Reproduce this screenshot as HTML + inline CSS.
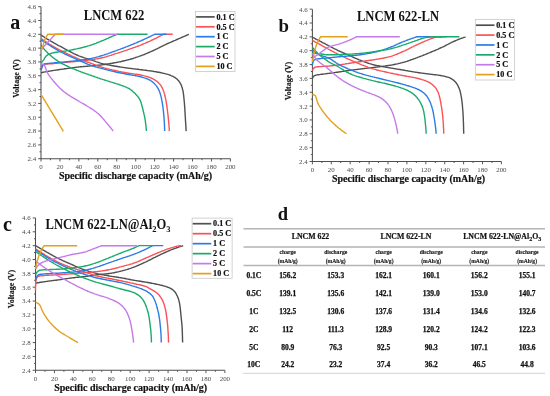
<!DOCTYPE html>
<html><head><meta charset="utf-8"><style>
html,body{margin:0;padding:0;background:#fff;width:550px;height:396px;overflow:hidden}
svg{display:block;will-change:transform}
text{font-family:"Liberation Serif",serif}
.tl{font-size:6.9px;fill:#4a4a4a}
.lg{font-size:8.1px;font-weight:bold;fill:#111;stroke:#111;stroke-width:0.2px}
.pl{font-size:20px;font-weight:bold;fill:#111}
.tt{font-size:12.6px;font-weight:bold;fill:#111}
.sub{font-size:8.5px}
.sub2{font-size:6px}
.at{font-size:10px;font-weight:bold;fill:#111;stroke:#111;stroke-width:0.2px}
.yt{font-size:8px;font-weight:bold;fill:#111;stroke:#111;stroke-width:0.15px}
.th{font-size:7.8px;font-weight:bold;fill:#111;stroke:#111;stroke-width:0.2px}
.sh{font-size:5.6px;font-weight:bold;fill:#222;stroke:#222;stroke-width:0.15px}
.td{font-size:7.5px;font-weight:bold;fill:#111;stroke:#111;stroke-width:0.25px}
</style></head><body>
<svg width="550" height="396" viewBox="0 0 550 396">
<path d="M41.00 6.68 V158.70 H230.40" fill="none" stroke="#4f4f4f" stroke-width="1.05"/>
<path d="M38.20 158.70H41.00M39.50 151.79H41.00M38.20 144.88H41.00M39.50 137.97H41.00M38.20 131.06H41.00M39.50 124.15H41.00M38.20 117.24H41.00M39.50 110.33H41.00M38.20 103.42H41.00M39.50 96.51H41.00M38.20 89.60H41.00M39.50 82.69H41.00M38.20 75.78H41.00M39.50 68.87H41.00M38.20 61.96H41.00M39.50 55.05H41.00M38.20 48.14H41.00M39.50 41.23H41.00M38.20 34.32H41.00M39.50 27.41H41.00M38.20 20.50H41.00M39.50 13.59H41.00M38.20 6.68H41.00M41.00 158.70V161.50M50.47 158.70V160.20M59.94 158.70V161.50M69.41 158.70V160.20M78.88 158.70V161.50M88.35 158.70V160.20M97.82 158.70V161.50M107.29 158.70V160.20M116.76 158.70V161.50M126.23 158.70V160.20M135.70 158.70V161.50M145.17 158.70V160.20M154.64 158.70V161.50M164.11 158.70V160.20M173.58 158.70V161.50M183.05 158.70V160.20M192.52 158.70V161.50M201.99 158.70V160.20M211.46 158.70V161.50M220.93 158.70V160.20M230.40 158.70V161.50" stroke="#4f4f4f" stroke-width="0.95"/>
<text x="36.20" y="161.10" class="tl" text-anchor="end">2.4</text>
<text x="36.20" y="147.28" class="tl" text-anchor="end">2.6</text>
<text x="36.20" y="133.46" class="tl" text-anchor="end">2.8</text>
<text x="36.20" y="119.64" class="tl" text-anchor="end">3.0</text>
<text x="36.20" y="105.82" class="tl" text-anchor="end">3.2</text>
<text x="36.20" y="92.00" class="tl" text-anchor="end">3.4</text>
<text x="36.20" y="78.18" class="tl" text-anchor="end">3.6</text>
<text x="36.20" y="64.36" class="tl" text-anchor="end">3.8</text>
<text x="36.20" y="50.54" class="tl" text-anchor="end">4.0</text>
<text x="36.20" y="36.72" class="tl" text-anchor="end">4.2</text>
<text x="36.20" y="22.90" class="tl" text-anchor="end">4.4</text>
<text x="36.20" y="9.08" class="tl" text-anchor="end">4.6</text>
<text x="41.00" y="169.20" class="tl" text-anchor="middle">0</text>
<text x="59.94" y="169.20" class="tl" text-anchor="middle">20</text>
<text x="78.88" y="169.20" class="tl" text-anchor="middle">40</text>
<text x="97.82" y="169.20" class="tl" text-anchor="middle">60</text>
<text x="116.76" y="169.20" class="tl" text-anchor="middle">80</text>
<text x="135.70" y="169.20" class="tl" text-anchor="middle">100</text>
<text x="154.64" y="169.20" class="tl" text-anchor="middle">120</text>
<text x="173.58" y="169.20" class="tl" text-anchor="middle">140</text>
<text x="192.52" y="169.20" class="tl" text-anchor="middle">160</text>
<text x="211.46" y="169.20" class="tl" text-anchor="middle">180</text>
<text x="230.40" y="169.20" class="tl" text-anchor="middle">200</text>
<path d="M41.0 72.7L42.0 72.5 43.0 72.3 44.0 72.1 44.9 71.9 45.9 71.8 46.9 71.6 47.9 71.4 48.9 71.2 49.9 71.1 50.9 70.9 51.8 70.7 52.8 70.6 53.8 70.4 54.8 70.3 55.8 70.1 56.8 70.0 57.8 69.8 58.8 69.7 59.8 69.5 60.7 69.4 61.7 69.3 62.7 69.1 63.7 69.0 64.7 68.8 65.7 68.7 66.7 68.6 67.7 68.4 68.7 68.3 69.7 68.1 70.7 68.0 71.7 67.9 72.6 67.7 73.6 67.6 74.6 67.5 75.6 67.4 76.6 67.2 77.6 67.1 78.6 67.0 79.6 66.9 80.6 66.8 81.6 66.7 82.6 66.6 83.6 66.5 84.6 66.5 85.6 66.4 86.6 66.3 87.6 66.2 88.6 66.1 89.6 66.0 90.6 65.9 91.6 65.8 92.6 65.7 93.6 65.6 94.6 65.6 95.6 65.5 96.6 65.4 97.5 65.3 98.5 65.2 99.5 65.1 100.5 65.0 101.5 64.9 102.5 64.7 103.5 64.6 104.5 64.5 105.5 64.3 106.5 64.2 107.5 64.0 108.5 63.9 109.5 63.7 110.4 63.5 111.4 63.4 112.4 63.2 113.4 63.0 114.4 62.8 115.4 62.6 116.3 62.5 117.3 62.3 118.3 62.1 119.3 61.9 120.3 61.7 121.3 61.5 122.2 61.2 123.2 61.0 124.2 60.8 125.2 60.6 126.1 60.3 127.1 60.1 128.1 59.8 129.0 59.6 130.0 59.3 131.0 59.0 131.9 58.8 132.9 58.5 133.8 58.2 134.8 57.9 135.7 57.5 136.7 57.2 137.6 56.9 138.6 56.6 139.5 56.2 140.5 55.9 141.4 55.5 142.3 55.2 143.3 54.8 144.2 54.5 145.1 54.1 146.1 53.7 147.0 53.3 147.9 52.9 148.8 52.5 149.8 52.1 150.7 51.7 151.6 51.3 152.5 50.9 153.4 50.5 154.3 50.1 155.2 49.7 156.1 49.2 157.0 48.8 157.9 48.3 158.8 47.9 159.7 47.4 160.6 47.0 161.5 46.5 162.4 46.1 163.3 45.6 164.2 45.2 165.1 44.8 166.0 44.3 166.9 43.9 167.8 43.5 168.7 43.1 169.6 42.7 170.6 42.3 171.5 41.9 172.4 41.5 173.3 41.1 174.2 40.7 175.2 40.3 176.1 39.9 177.0 39.5 177.9 39.1 178.8 38.7 179.7 38.3 180.7 37.9 181.6 37.5 182.5 37.1 183.4 36.7 184.3 36.3 185.3 35.9 186.2 35.5 187.1 35.1 188.0 34.7 188.9 34.3" fill="none" stroke="#505050" stroke-width="1.40" stroke-linejoin="round"/>
<path d="M41.0 35.1L41.8 35.6 42.7 36.2 43.5 36.7 44.4 37.2 45.2 37.8 46.1 38.3 46.9 38.8 47.8 39.3 48.7 39.9 49.5 40.4 50.4 40.9 51.2 41.4 52.1 41.9 53.0 42.4 53.8 42.9 54.7 43.4 55.6 43.9 56.5 44.3 57.4 44.8 58.2 45.3 59.1 45.8 60.0 46.2 60.9 46.7 61.8 47.2 62.7 47.7 63.5 48.1 64.4 48.6 65.3 49.1 66.2 49.5 67.1 50.0 68.0 50.5 68.9 51.0 69.7 51.4 70.6 51.9 71.5 52.4 72.4 52.9 73.3 53.3 74.2 53.8 75.1 54.2 76.0 54.6 76.9 55.0 77.8 55.4 78.7 55.8 79.7 56.2 80.6 56.5 81.6 56.8 82.5 57.1 83.5 57.5 84.4 57.8 85.4 58.1 86.3 58.4 87.3 58.7 88.3 59.0 89.2 59.3 90.2 59.6 91.1 59.9 92.1 60.2 93.0 60.6 94.0 60.9 94.9 61.2 95.9 61.6 96.8 61.9 97.8 62.2 98.7 62.5 99.7 62.8 100.6 63.1 101.6 63.4 102.5 63.6 103.5 63.9 104.5 64.1 105.5 64.3 106.4 64.5 107.4 64.7 108.4 64.9 109.4 65.1 110.4 65.3 111.4 65.5 112.4 65.7 113.3 65.8 114.3 66.0 115.3 66.2 116.3 66.3 117.3 66.5 118.3 66.7 119.3 66.8 120.3 67.0 121.3 67.1 122.3 67.3 123.2 67.4 124.2 67.6 125.2 67.7 126.2 67.9 127.2 68.0 128.2 68.1 129.2 68.3 130.2 68.4 131.2 68.5 132.2 68.6 133.2 68.8 134.2 68.9 135.2 69.0 136.2 69.1 137.2 69.2 138.2 69.3 139.2 69.5 140.1 69.6 141.1 69.7 142.1 69.8 143.1 70.0 144.1 70.1 145.1 70.2 146.1 70.3 147.1 70.5 148.1 70.6 149.1 70.7 150.1 70.9 151.1 71.0 152.1 71.1 153.1 71.3 154.0 71.5 155.0 71.6 156.0 71.8 157.0 72.0 158.0 72.2 159.0 72.3 160.0 72.5 161.0 72.7 161.9 72.9 162.9 73.2 163.9 73.4 164.9 73.6 165.8 73.9 166.8 74.1 167.8 74.4 168.7 74.7 169.7 75.0 170.6 75.4 171.5 75.8 172.5 76.2 173.4 76.6 174.2 77.1 175.1 77.6 175.9 78.2 176.7 78.8 177.4 79.5 178.1 80.3 178.8 81.0 179.4 81.8 179.9 82.7 180.4 83.5 180.9 84.4 181.3 85.3 181.6 86.2 182.0 87.2 182.3 88.2 182.5 89.1 182.8 90.1 183.0 91.1 183.2 92.1 183.3 93.1 183.5 94.1 183.6 95.1 183.7 96.0 183.8 97.0 183.9 98.0 184.0 99.0 184.1 100.0 184.2 101.0 184.3 102.0 184.4 103.1 184.5 104.1 184.5 105.1 184.6 106.1 184.7 107.1 184.8 108.1 184.8 109.1 184.9 110.1 184.9 111.1 185.0 112.1 185.1 113.1 185.1 114.1 185.2 115.1 185.2 116.1 185.3 117.1 185.4 118.1 185.4 119.1 185.5 120.1 185.5 121.1 185.6 122.1 185.7 123.1 185.7 124.1 185.8 125.1 185.9 126.1 185.9 127.1 186.0 128.1 186.0 129.1 186.1 130.1 186.2 131.1" fill="none" stroke="#505050" stroke-width="1.40" stroke-linejoin="round"/>
<path d="M41.0 67.5L41.4 66.5 41.9 65.7 42.5 65.1 43.1 64.7 43.9 64.4 44.8 64.3 45.8 64.1 46.8 64.1 47.9 64.0 49.0 63.9 50.1 63.8 51.2 63.7 52.3 63.7 53.3 63.6 54.3 63.5 55.3 63.4 56.3 63.3 57.3 63.2 58.3 63.1 59.3 63.0 60.3 62.9 61.3 62.8 62.3 62.7 63.3 62.6 64.3 62.5 65.3 62.4 66.3 62.3 67.3 62.2 68.3 62.1 69.3 62.0 70.3 62.0 71.3 61.9 72.3 61.8 73.3 61.7 74.3 61.6 75.3 61.5 76.3 61.4 77.3 61.3 78.3 61.2 79.3 61.1 80.3 61.0 81.3 60.9 82.3 60.8 83.3 60.7 84.3 60.6 85.3 60.5 86.3 60.4 87.3 60.3 88.3 60.1 89.2 60.0 90.2 59.9 91.2 59.7 92.2 59.6 93.2 59.4 94.2 59.3 95.2 59.1 96.2 58.9 97.2 58.8 98.2 58.6 99.2 58.4 100.1 58.2 101.1 58.0 102.1 57.8 103.1 57.6 104.1 57.3 105.0 57.1 106.0 56.8 106.9 56.5 107.9 56.2 108.9 55.9 109.8 55.6 110.8 55.3 111.7 55.0 112.7 54.7 113.6 54.4 114.6 54.0 115.6 53.7 116.5 53.4 117.5 53.1 118.4 52.8 119.4 52.5 120.3 52.2 121.3 51.9 122.2 51.6 123.2 51.3 124.1 50.9 125.1 50.6 126.0 50.3 127.0 50.0 127.9 49.7 128.9 49.3 129.8 49.0 130.8 48.7 131.7 48.4 132.7 48.0 133.6 47.7 134.6 47.4 135.5 47.0 136.5 46.7 137.4 46.3 138.4 46.0 139.3 45.6 140.2 45.3 141.2 44.9 142.1 44.5 143.0 44.1 143.9 43.7 144.9 43.3 145.8 42.9 146.7 42.5 147.6 42.1 148.5 41.7 149.5 41.3 150.4 40.9 151.3 40.4 152.2 40.0 153.1 39.6 154.0 39.2 154.9 38.7 155.8 38.3 156.7 37.8 157.6 37.4 158.5 36.9 159.4 36.4 160.3 36.0 161.1 35.5 162.0 35.0 162.9 34.6 163.4 34.3H172.7" fill="none" stroke="#fa5258" stroke-width="1.40" stroke-linejoin="round"/>
<path d="M41.0 38.5L41.8 39.0 42.6 39.6 43.5 40.2 44.3 40.7 45.1 41.3 46.0 41.8 46.8 42.4 47.7 42.9 48.5 43.5 49.3 44.0 50.2 44.5 51.1 45.0 51.9 45.6 52.8 46.1 53.6 46.6 54.5 47.1 55.4 47.6 56.2 48.1 57.1 48.6 58.0 49.0 58.9 49.5 59.8 50.0 60.6 50.5 61.5 50.9 62.4 51.4 63.3 51.8 64.2 52.3 65.1 52.7 66.0 53.2 66.9 53.6 67.8 54.1 68.7 54.5 69.6 54.9 70.5 55.3 71.4 55.8 72.3 56.2 73.2 56.6 74.2 57.0 75.1 57.4 76.0 57.8 76.9 58.2 77.8 58.6 78.8 58.9 79.7 59.3 80.6 59.6 81.6 60.0 82.5 60.3 83.5 60.7 84.4 61.0 85.3 61.3 86.3 61.7 87.2 62.0 88.2 62.3 89.1 62.7 90.1 63.0 91.0 63.3 92.0 63.7 92.9 64.0 93.8 64.4 94.8 64.7 95.7 65.1 96.7 65.4 97.6 65.8 98.5 66.1 99.5 66.4 100.4 66.7 101.4 67.0 102.3 67.3 103.3 67.6 104.3 67.9 105.2 68.1 106.2 68.4 107.2 68.7 108.1 68.9 109.1 69.1 110.1 69.4 111.1 69.6 112.0 69.8 113.0 70.1 114.0 70.3 115.0 70.5 115.9 70.7 116.9 70.9 117.9 71.1 118.9 71.4 119.9 71.6 120.8 71.8 121.8 72.0 122.8 72.1 123.8 72.3 124.8 72.5 125.7 72.7 126.7 72.9 127.7 73.0 128.7 73.2 129.7 73.4 130.7 73.5 131.7 73.6 132.7 73.8 133.7 73.9 134.7 74.1 135.7 74.2 136.6 74.3 137.6 74.5 138.6 74.7 139.6 74.8 140.6 75.0 141.6 75.2 142.5 75.4 143.5 75.6 144.5 75.9 145.5 76.1 146.4 76.4 147.4 76.7 148.4 77.0 149.3 77.3 150.2 77.6 151.2 78.0 152.1 78.4 153.0 78.9 153.8 79.4 154.7 79.9 155.6 80.4 156.4 81.0 157.2 81.6 157.9 82.2 158.6 82.9 159.3 83.7 160.0 84.4 160.6 85.2 161.2 86.1 161.7 86.9 162.2 87.8 162.6 88.7 163.0 89.6 163.3 90.5 163.7 91.4 164.0 92.4 164.3 93.4 164.6 94.3 164.8 95.3 165.1 96.3 165.3 97.3 165.5 98.3 165.7 99.3 165.9 100.2 166.1 101.2 166.2 102.2 166.4 103.2 166.6 104.2 166.7 105.2 166.9 106.2 167.0 107.1 167.1 108.1 167.3 109.1 167.4 110.1 167.5 111.1 167.6 112.1 167.7 113.1 167.9 114.1 168.0 115.1 168.1 116.1 168.2 117.1 168.3 118.1 168.4 119.1 168.5 120.1 168.6 121.1 168.7 122.1 168.8 123.1 168.9 124.1 169.0 125.1 169.0 126.1 169.1 127.1 169.2 128.1 169.3 129.1 169.3 130.1 169.4 131.1" fill="none" stroke="#fa5258" stroke-width="1.40" stroke-linejoin="round"/>
<path d="M41.0 70.3L41.4 69.3 41.8 68.3 42.1 67.2 42.5 66.2 42.9 65.4 43.3 64.7 43.9 64.3 44.6 64.0 45.4 63.8 46.4 63.6 47.4 63.5 48.5 63.4 49.6 63.3 50.8 63.2 51.8 63.1 52.9 63.0 53.9 62.9 54.9 62.8 55.9 62.7 56.9 62.6 57.9 62.5 58.9 62.4 59.9 62.3 60.9 62.2 61.9 62.1 62.9 62.1 63.9 62.0 64.9 61.9 65.9 61.8 66.9 61.7 67.9 61.6 68.9 61.5 69.9 61.4 70.9 61.3 71.9 61.2 72.9 61.1 73.9 61.0 74.9 60.9 75.9 60.8 76.9 60.6 77.9 60.5 78.9 60.4 79.9 60.3 80.9 60.1 81.9 60.0 82.9 59.9 83.9 59.7 84.9 59.6 85.9 59.4 86.9 59.3 87.8 59.1 88.8 58.9 89.8 58.7 90.8 58.6 91.8 58.3 92.7 58.1 93.7 57.9 94.7 57.7 95.7 57.4 96.6 57.1 97.6 56.9 98.6 56.6 99.5 56.3 100.5 56.0 101.5 55.7 102.4 55.5 103.4 55.2 104.3 54.9 105.3 54.5 106.2 54.2 107.2 53.9 108.1 53.6 109.1 53.2 110.0 52.9 111.0 52.5 111.9 52.2 112.9 51.8 113.8 51.5 114.7 51.1 115.7 50.8 116.6 50.4 117.6 50.1 118.5 49.7 119.5 49.4 120.4 49.1 121.3 48.7 122.3 48.4 123.2 48.0 124.2 47.7 125.1 47.3 126.0 46.9 127.0 46.6 127.9 46.2 128.8 45.8 129.8 45.5 130.7 45.1 131.6 44.7 132.6 44.4 133.5 44.0 134.4 43.6 135.3 43.2 136.3 42.8 137.2 42.4 138.1 42.0 139.0 41.6 140.0 41.2 140.9 40.8 141.8 40.4 142.7 40.0 143.6 39.6 144.5 39.2 145.4 38.7 146.3 38.3 147.2 37.9 148.2 37.4 149.1 37.0 150.0 36.6 150.9 36.1 151.8 35.7 152.7 35.2 153.6 34.8 154.5 34.3H166.5" fill="none" stroke="#2b7ce6" stroke-width="1.40" stroke-linejoin="round"/>
<path d="M41.0 39.8L41.8 40.3 42.7 40.9 43.5 41.4 44.3 42.0 45.2 42.5 46.0 43.1 46.9 43.6 47.7 44.2 48.6 44.7 49.4 45.2 50.3 45.7 51.1 46.3 52.0 46.8 52.8 47.3 53.7 47.8 54.6 48.3 55.4 48.8 56.3 49.3 57.2 49.8 58.0 50.3 58.9 50.8 59.8 51.3 60.7 51.7 61.6 52.2 62.4 52.7 63.3 53.2 64.2 53.6 65.1 54.1 66.0 54.5 66.9 54.9 67.8 55.4 68.7 55.8 69.6 56.2 70.6 56.6 71.5 57.0 72.4 57.4 73.3 57.8 74.2 58.2 75.1 58.6 76.1 59.0 77.0 59.4 77.9 59.8 78.8 60.2 79.7 60.7 80.6 61.1 81.5 61.5 82.5 61.9 83.4 62.3 84.3 62.7 85.2 63.1 86.1 63.5 87.1 63.9 88.0 64.3 88.9 64.6 89.9 65.0 90.8 65.3 91.7 65.6 92.7 65.9 93.6 66.2 94.6 66.5 95.6 66.8 96.5 67.1 97.5 67.3 98.5 67.6 99.4 67.9 100.4 68.1 101.4 68.4 102.3 68.6 103.3 68.9 104.3 69.2 105.2 69.4 106.2 69.7 107.2 69.9 108.2 70.2 109.1 70.4 110.1 70.7 111.1 70.9 112.0 71.1 113.0 71.4 114.0 71.6 115.0 71.8 115.9 72.0 116.9 72.2 117.9 72.5 118.9 72.7 119.9 72.9 120.8 73.0 121.8 73.2 122.8 73.4 123.8 73.6 124.8 73.8 125.8 74.0 126.8 74.2 127.7 74.4 128.7 74.5 129.7 74.7 130.7 74.9 131.7 75.1 132.7 75.2 133.7 75.4 134.7 75.6 135.6 75.7 136.6 75.9 137.6 76.1 138.6 76.3 139.6 76.5 140.5 76.8 141.5 77.0 142.5 77.3 143.5 77.6 144.4 77.9 145.4 78.2 146.3 78.5 147.3 78.9 148.2 79.3 149.0 79.7 149.9 80.2 150.8 80.7 151.6 81.3 152.4 81.9 153.2 82.5 154.0 83.2 154.7 83.9 155.3 84.6 156.0 85.4 156.6 86.2 157.1 87.0 157.7 87.9 158.2 88.7 158.7 89.6 159.1 90.5 159.5 91.5 159.8 92.4 160.1 93.3 160.4 94.3 160.7 95.2 160.9 96.2 161.2 97.2 161.4 98.1 161.6 99.1 161.8 100.1 162.0 101.1 162.2 102.1 162.3 103.1 162.5 104.1 162.6 105.1 162.8 106.1 162.9 107.1 163.0 108.1 163.2 109.1 163.3 110.1 163.4 111.1 163.5 112.1 163.6 113.1 163.7 114.1 163.8 115.1 163.9 116.1 164.0 117.1 164.0 118.1 164.1 119.1 164.2 120.1 164.2 121.1 164.3 122.1 164.4 123.1 164.4 124.1 164.5 125.1 164.5 126.1 164.5 127.1 164.6 128.1 164.6 129.1 164.7 130.1 164.7 131.1" fill="none" stroke="#2b7ce6" stroke-width="1.40" stroke-linejoin="round"/>
<path d="M41.0 62.7L41.8 62.0 42.5 61.4 43.1 60.6 43.7 59.8 44.2 58.9 44.7 58.0 45.3 57.1 45.9 56.3 46.6 55.7 47.3 55.1 48.1 54.6 49.0 54.2 50.0 53.8 50.9 53.5 51.9 53.2 52.9 52.9 53.9 52.7 54.9 52.5 55.8 52.3 56.8 52.2 57.8 52.0 58.8 51.9 59.8 51.8 60.8 51.7 61.8 51.5 62.8 51.4 63.8 51.3 64.8 51.1 65.8 51.0 66.8 50.8 67.8 50.6 68.8 50.4 69.8 50.3 70.7 50.1 71.7 49.9 72.7 49.7 73.7 49.5 74.7 49.3 75.7 49.1 76.6 48.9 77.6 48.6 78.6 48.4 79.6 48.2 80.5 48.0 81.5 47.7 82.5 47.5 83.5 47.2 84.4 47.0 85.4 46.7 86.4 46.5 87.3 46.2 88.3 45.9 89.3 45.6 90.2 45.3 91.2 45.0 92.1 44.7 93.1 44.3 94.0 44.0 94.9 43.6 95.9 43.3 96.8 42.9 97.7 42.5 98.7 42.2 99.6 41.8 100.5 41.4 101.5 41.0 102.4 40.6 103.3 40.3 104.2 39.9 105.2 39.5 106.1 39.1 107.0 38.7 107.9 38.3 108.8 37.8 109.7 37.4 110.7 37.0 111.6 36.6 112.5 36.2 113.4 35.8 114.3 35.4 115.3 35.1 116.2 34.7 117.1 34.3H147.5" fill="none" stroke="#1aab6b" stroke-width="1.40" stroke-linejoin="round"/>
<path d="M41.0 44.7L41.5 45.6 42.0 46.4 42.6 47.2 43.2 48.0 43.8 48.8 44.5 49.6 45.1 50.3 45.8 51.0 46.6 51.8 47.3 52.5 48.0 53.2 48.7 53.8 49.5 54.5 50.2 55.2 51.0 55.8 51.7 56.5 52.5 57.1 53.3 57.8 54.1 58.4 54.9 59.0 55.7 59.6 56.5 60.2 57.4 60.7 58.2 61.3 59.0 61.8 59.9 62.3 60.7 62.8 61.6 63.3 62.5 63.8 63.4 64.3 64.3 64.7 65.2 65.2 66.1 65.6 67.0 66.0 67.9 66.4 68.8 66.9 69.8 67.3 70.7 67.7 71.6 68.1 72.5 68.5 73.4 68.9 74.4 69.2 75.3 69.6 76.2 70.0 77.2 70.4 78.1 70.7 79.0 71.1 80.0 71.4 80.9 71.8 81.9 72.1 82.8 72.5 83.7 72.8 84.7 73.2 85.6 73.5 86.6 73.8 87.5 74.2 88.5 74.5 89.4 74.9 90.4 75.2 91.3 75.5 92.2 75.9 93.2 76.2 94.1 76.5 95.1 76.9 96.0 77.2 97.0 77.5 97.9 77.8 98.9 78.1 99.8 78.5 100.8 78.8 101.7 79.1 102.7 79.4 103.6 79.7 104.6 80.0 105.6 80.3 106.5 80.6 107.5 80.9 108.4 81.2 109.4 81.5 110.3 81.8 111.3 82.1 112.3 82.4 113.2 82.7 114.2 83.0 115.2 83.3 116.1 83.6 117.1 83.9 118.0 84.2 119.0 84.5 119.9 84.8 120.9 85.2 121.8 85.5 122.8 85.8 123.7 86.2 124.7 86.6 125.6 86.9 126.5 87.3 127.4 87.8 128.3 88.2 129.2 88.7 130.0 89.2 130.8 89.8 131.6 90.4 132.4 91.0 133.1 91.7 133.9 92.4 134.6 93.1 135.3 93.8 136.0 94.6 136.7 95.3 137.4 96.1 138.0 96.8 138.6 97.6 139.2 98.5 139.7 99.3 140.1 100.2 140.5 101.1 140.8 102.0 141.2 102.9 141.4 103.9 141.7 104.9 142.0 105.9 142.2 106.8 142.5 107.8 142.7 108.8 143.0 109.8 143.2 110.8 143.4 111.8 143.7 112.7 143.9 113.7 144.1 114.7 144.4 115.7 144.6 116.6 144.8 117.6 144.9 118.6 145.1 119.6 145.3 120.6 145.4 121.6 145.5 122.6 145.7 123.6 145.8 124.6 145.9 125.6 146.0 126.6 146.1 127.6 146.2 128.6 146.3 129.6 146.4 130.6 146.4 131.1" fill="none" stroke="#1aab6b" stroke-width="1.40" stroke-linejoin="round"/>
<path d="M41.0 50.2L41.6 49.4 42.2 48.6 42.9 47.8 43.5 47.0 44.2 46.2 44.8 45.4 45.5 44.7 46.2 43.9 46.9 43.2 47.6 42.4 48.3 41.7 49.0 40.9 49.7 40.2 50.4 39.4 51.1 38.7 51.8 38.0 52.5 37.2 53.2 36.5 53.9 35.8 54.7 35.0 55.4 34.3H117.6" fill="none" stroke="#c47ae9" stroke-width="1.40" stroke-linejoin="round"/>
<path d="M41.0 64.0L41.9 64.0 42.7 64.1 43.4 64.3 44.0 64.8 44.5 65.5 45.0 66.4 45.4 67.4 45.8 68.5 46.2 69.7 46.6 70.8 47.0 71.8 47.5 72.8 48.0 73.7 48.5 74.6 49.1 75.4 49.7 76.3 50.3 77.1 50.9 77.9 51.5 78.6 52.2 79.4 52.8 80.2 53.4 81.0 54.1 81.8 54.7 82.5 55.4 83.3 56.0 84.0 56.7 84.8 57.4 85.5 58.1 86.3 58.8 87.0 59.5 87.7 60.2 88.4 60.9 89.1 61.7 89.8 62.4 90.4 63.2 91.1 64.0 91.7 64.8 92.3 65.6 92.9 66.4 93.5 67.2 94.1 68.0 94.6 68.8 95.2 69.7 95.7 70.5 96.3 71.4 96.8 72.3 97.3 73.1 97.8 74.0 98.4 74.9 98.9 75.7 99.4 76.6 99.9 77.4 100.4 78.3 100.9 79.2 101.5 80.0 102.0 80.9 102.5 81.8 103.0 82.7 103.5 83.5 103.9 84.4 104.4 85.3 104.9 86.1 105.4 87.0 106.0 87.9 106.5 88.7 107.0 89.6 107.5 90.4 108.1 91.3 108.6 92.1 109.2 93.0 109.7 93.8 110.3 94.6 110.9 95.4 111.5 96.2 112.0 97.0 112.7 97.8 113.3 98.6 113.9 99.3 114.6 100.0 115.3 100.7 116.0 101.4 116.7 102.0 117.5 102.7 118.3 103.4 119.0 104.0 119.8 104.7 120.6 105.3 121.4 105.9 122.1 106.6 122.9 107.2 123.7 107.9 124.4 108.5 125.2 109.2 126.0 109.8 126.8 110.4 127.5 111.1 128.3 111.7 129.1 112.3 129.9 112.9 130.7 113.3 131.1" fill="none" stroke="#c47ae9" stroke-width="1.40" stroke-linejoin="round"/>
<path d="M41.0 50.2L41.5 49.4 42.0 48.5 42.4 47.6 42.7 46.6 43.0 45.6 43.3 44.6 43.5 43.6 43.8 42.6 44.1 41.6 44.4 40.7 44.8 39.8 45.2 38.8 45.7 37.9 46.2 37.0 46.7 36.1 47.2 35.2 47.7 34.3H63.9" fill="none" stroke="#e3a01a" stroke-width="1.40" stroke-linejoin="round"/>
<path d="M41.0 94.4L63.4 131.4" fill="none" stroke="#e3a01a" stroke-width="1.40" stroke-linejoin="round"/>
<rect x="195.50" y="11.50" width="39.50" height="60.00" fill="#fff" stroke="#c8c8c8" stroke-width="0.8"/>
<path d="M196.10 16.90H214.70" stroke="#505050" stroke-width="1.7"/>
<text x="216.50" y="19.60" class="lg">0.1 C</text>
<path d="M196.10 26.80H214.70" stroke="#fa5258" stroke-width="1.7"/>
<text x="216.50" y="29.50" class="lg">0.5 C</text>
<path d="M196.10 36.70H214.70" stroke="#2b7ce6" stroke-width="1.7"/>
<text x="216.50" y="39.40" class="lg">1 C</text>
<path d="M196.10 46.60H214.70" stroke="#1aab6b" stroke-width="1.7"/>
<text x="216.50" y="49.30" class="lg">2 C</text>
<path d="M196.10 56.50H214.70" stroke="#c47ae9" stroke-width="1.7"/>
<text x="216.50" y="59.20" class="lg">5 C</text>
<path d="M196.10 66.40H214.70" stroke="#e3a01a" stroke-width="1.7"/>
<text x="216.50" y="69.10" class="lg">10 C</text>
<path d="M312.40 9.15 V161.50 H501.40" fill="none" stroke="#4f4f4f" stroke-width="1.05"/>
<path d="M309.60 161.50H312.40M310.90 154.57H312.40M309.60 147.65H312.40M310.90 140.72H312.40M309.60 133.80H312.40M310.90 126.88H312.40M309.60 119.95H312.40M310.90 113.03H312.40M309.60 106.10H312.40M310.90 99.17H312.40M309.60 92.25H312.40M310.90 85.32H312.40M309.60 78.40H312.40M310.90 71.47H312.40M309.60 64.55H312.40M310.90 57.62H312.40M309.60 50.70H312.40M310.90 43.77H312.40M309.60 36.85H312.40M310.90 29.92H312.40M309.60 23.00H312.40M310.90 16.07H312.40M309.60 9.15H312.40M312.40 161.50V164.30M321.85 161.50V163.00M331.30 161.50V164.30M340.75 161.50V163.00M350.20 161.50V164.30M359.65 161.50V163.00M369.10 161.50V164.30M378.55 161.50V163.00M388.00 161.50V164.30M397.45 161.50V163.00M406.90 161.50V164.30M416.35 161.50V163.00M425.80 161.50V164.30M435.25 161.50V163.00M444.70 161.50V164.30M454.15 161.50V163.00M463.60 161.50V164.30M473.05 161.50V163.00M482.50 161.50V164.30M491.95 161.50V163.00M501.40 161.50V164.30" stroke="#4f4f4f" stroke-width="0.95"/>
<text x="307.60" y="163.90" class="tl" text-anchor="end">2.4</text>
<text x="307.60" y="150.05" class="tl" text-anchor="end">2.6</text>
<text x="307.60" y="136.20" class="tl" text-anchor="end">2.8</text>
<text x="307.60" y="122.35" class="tl" text-anchor="end">3.0</text>
<text x="307.60" y="108.50" class="tl" text-anchor="end">3.2</text>
<text x="307.60" y="94.65" class="tl" text-anchor="end">3.4</text>
<text x="307.60" y="80.80" class="tl" text-anchor="end">3.6</text>
<text x="307.60" y="66.95" class="tl" text-anchor="end">3.8</text>
<text x="307.60" y="53.10" class="tl" text-anchor="end">4.0</text>
<text x="307.60" y="39.25" class="tl" text-anchor="end">4.2</text>
<text x="307.60" y="25.40" class="tl" text-anchor="end">4.4</text>
<text x="307.60" y="11.55" class="tl" text-anchor="end">4.6</text>
<text x="312.40" y="172.00" class="tl" text-anchor="middle">0</text>
<text x="331.30" y="172.00" class="tl" text-anchor="middle">20</text>
<text x="350.20" y="172.00" class="tl" text-anchor="middle">40</text>
<text x="369.10" y="172.00" class="tl" text-anchor="middle">60</text>
<text x="388.00" y="172.00" class="tl" text-anchor="middle">80</text>
<text x="406.90" y="172.00" class="tl" text-anchor="middle">100</text>
<text x="425.80" y="172.00" class="tl" text-anchor="middle">120</text>
<text x="444.70" y="172.00" class="tl" text-anchor="middle">140</text>
<text x="463.60" y="172.00" class="tl" text-anchor="middle">160</text>
<text x="482.50" y="172.00" class="tl" text-anchor="middle">180</text>
<text x="501.40" y="172.00" class="tl" text-anchor="middle">200</text>
<path d="M312.4 78.4L312.8 77.5 313.3 76.7 313.9 76.0 314.6 75.6 315.4 75.3 316.2 75.1 317.2 74.9 318.2 74.7 319.3 74.6 320.4 74.4 321.5 74.3 322.6 74.2 323.6 74.1 324.7 73.9 325.7 73.8 326.7 73.6 327.7 73.5 328.7 73.4 329.7 73.2 330.7 73.1 331.7 73.0 332.7 72.8 333.6 72.7 334.6 72.6 335.6 72.4 336.6 72.3 337.6 72.2 338.6 72.0 339.6 71.9 340.6 71.7 341.6 71.6 342.6 71.4 343.6 71.3 344.6 71.1 345.6 71.0 346.5 70.8 347.5 70.7 348.5 70.5 349.5 70.4 350.5 70.3 351.5 70.1 352.5 70.0 353.5 69.9 354.5 69.7 355.5 69.6 356.5 69.5 357.5 69.4 358.5 69.2 359.5 69.1 360.5 69.0 361.5 68.9 362.4 68.7 363.4 68.6 364.4 68.5 365.4 68.4 366.4 68.3 367.4 68.1 368.4 68.0 369.4 67.9 370.4 67.8 371.4 67.7 372.4 67.6 373.4 67.5 374.4 67.4 375.4 67.2 376.4 67.1 377.4 67.0 378.4 66.9 379.4 66.8 380.4 66.6 381.4 66.5 382.4 66.4 383.4 66.2 384.3 66.1 385.3 66.0 386.3 65.8 387.3 65.7 388.3 65.5 389.3 65.4 390.3 65.2 391.3 65.1 392.3 64.9 393.3 64.7 394.2 64.5 395.2 64.3 396.2 64.1 397.2 63.9 398.2 63.7 399.1 63.4 400.1 63.2 401.1 62.9 402.1 62.7 403.0 62.4 404.0 62.2 404.9 61.9 405.9 61.6 406.9 61.3 407.8 61.0 408.8 60.6 409.7 60.3 410.6 60.0 411.6 59.6 412.5 59.3 413.5 59.0 414.4 58.6 415.4 58.3 416.3 57.9 417.2 57.6 418.2 57.2 419.1 56.9 420.1 56.5 421.0 56.1 421.9 55.8 422.9 55.4 423.8 55.0 424.7 54.7 425.7 54.3 426.6 53.9 427.5 53.5 428.4 53.2 429.4 52.8 430.3 52.4 431.2 52.0 432.1 51.6 433.1 51.2 434.0 50.8 434.9 50.5 435.8 50.1 436.8 49.7 437.7 49.3 438.6 48.8 439.5 48.4 440.4 48.0 441.3 47.6 442.2 47.2 443.2 46.8 444.1 46.3 445.0 45.9 445.8 45.4 446.7 45.0 447.6 44.5 448.5 44.0 449.4 43.6 450.3 43.1 451.2 42.7 452.1 42.2 453.0 41.8 453.9 41.4 454.8 41.0 455.7 40.6 456.7 40.2 457.6 39.8 458.5 39.4 459.4 39.0 460.4 38.7 461.3 38.3 462.3 38.0 463.2 37.7 464.2 37.3 465.1 37.0 465.6 36.8" fill="none" stroke="#505050" stroke-width="1.40" stroke-linejoin="round"/>
<path d="M312.4 37.2L313.3 37.7 314.2 38.1 315.1 38.6 315.9 39.1 316.8 39.5 317.7 40.0 318.6 40.5 319.5 40.9 320.4 41.4 321.3 41.8 322.2 42.3 323.0 42.8 323.9 43.2 324.8 43.7 325.7 44.2 326.6 44.6 327.5 45.1 328.4 45.6 329.3 46.0 330.1 46.5 331.0 47.0 331.9 47.4 332.8 47.9 333.7 48.3 334.6 48.8 335.5 49.2 336.4 49.7 337.3 50.1 338.2 50.6 339.1 51.0 340.0 51.4 340.9 51.8 341.8 52.2 342.7 52.6 343.6 53.0 344.6 53.5 345.5 53.9 346.4 54.2 347.3 54.6 348.2 55.0 349.2 55.4 350.1 55.8 351.0 56.2 351.9 56.6 352.8 57.1 353.7 57.5 354.7 57.9 355.6 58.3 356.5 58.7 357.4 59.1 358.3 59.5 359.2 59.9 360.2 60.2 361.1 60.6 362.0 61.0 363.0 61.3 363.9 61.7 364.9 62.0 365.8 62.3 366.7 62.7 367.7 63.0 368.7 63.3 369.6 63.6 370.6 63.9 371.5 64.2 372.5 64.5 373.5 64.7 374.4 65.0 375.4 65.2 376.4 65.4 377.3 65.6 378.3 65.8 379.3 66.0 380.3 66.2 381.3 66.4 382.3 66.6 383.2 66.7 384.2 66.9 385.2 67.1 386.2 67.2 387.2 67.4 388.2 67.6 389.2 67.7 390.2 67.9 391.2 68.1 392.1 68.2 393.1 68.4 394.1 68.6 395.1 68.7 396.1 68.9 397.1 69.1 398.1 69.2 399.1 69.4 400.0 69.5 401.0 69.7 402.0 69.9 403.0 70.0 404.0 70.2 405.0 70.4 406.0 70.6 407.0 70.7 407.9 70.9 408.9 71.1 409.9 71.3 410.9 71.4 411.9 71.6 412.9 71.8 413.9 71.9 414.8 72.1 415.8 72.2 416.8 72.4 417.8 72.5 418.8 72.7 419.8 72.8 420.8 73.0 421.8 73.1 422.8 73.2 423.8 73.4 424.8 73.5 425.8 73.6 426.7 73.7 427.7 73.9 428.7 74.0 429.7 74.1 430.7 74.2 431.7 74.4 432.7 74.5 433.7 74.6 434.7 74.7 435.7 74.8 436.7 74.9 437.7 75.1 438.7 75.2 439.7 75.4 440.7 75.5 441.7 75.7 442.7 75.9 443.7 76.1 444.7 76.3 445.7 76.6 446.6 76.8 447.6 77.1 448.5 77.4 449.4 77.7 450.3 78.1 451.2 78.6 452.0 79.1 452.8 79.7 453.7 80.3 454.4 81.0 455.2 81.8 455.8 82.5 456.5 83.3 457.0 84.1 457.5 84.9 458.0 85.8 458.4 86.7 458.8 87.6 459.2 88.5 459.6 89.5 459.9 90.5 460.2 91.5 460.4 92.4 460.6 93.4 460.8 94.4 461.0 95.4 461.2 96.3 461.4 97.3 461.5 98.3 461.7 99.3 461.8 100.3 461.9 101.3 462.1 102.3 462.2 103.3 462.3 104.3 462.4 105.3 462.5 106.3 462.5 107.3 462.6 108.3 462.7 109.3 462.8 110.3 462.9 111.3 462.9 112.3 463.0 113.3 463.1 114.3 463.1 115.3 463.2 116.3 463.2 117.3 463.3 118.3 463.3 119.3 463.3 120.3 463.4 121.3 463.4 122.3 463.5 123.3 463.5 124.3 463.5 125.3 463.5 126.3 463.6 127.3 463.6 128.3 463.6 129.3 463.6 130.3 463.7 131.3 463.7 132.3 463.7 133.3 463.7 133.8" fill="none" stroke="#505050" stroke-width="1.40" stroke-linejoin="round"/>
<path d="M312.4 70.8L312.8 69.8 313.3 68.8 313.8 68.1 314.4 67.6 315.1 67.2 315.8 67.0 316.7 66.9 317.6 66.8 318.6 66.7 319.6 66.6 320.6 66.6 321.7 66.5 322.8 66.4 323.9 66.4 325.1 66.3 326.2 66.3 327.2 66.2 328.3 66.1 329.3 66.0 330.3 65.9 331.3 65.8 332.3 65.7 333.3 65.6 334.3 65.5 335.3 65.4 336.3 65.3 337.3 65.1 338.3 65.0 339.3 64.9 340.3 64.7 341.3 64.6 342.3 64.4 343.3 64.3 344.2 64.1 345.2 64.0 346.2 63.8 347.2 63.6 348.2 63.5 349.2 63.3 350.2 63.2 351.2 63.0 352.2 62.9 353.2 62.7 354.2 62.6 355.1 62.4 356.1 62.3 357.1 62.1 358.1 62.0 359.1 61.8 360.1 61.7 361.1 61.6 362.1 61.4 363.1 61.3 364.1 61.1 365.1 61.0 366.1 60.8 367.1 60.7 368.0 60.6 369.0 60.4 370.0 60.3 371.0 60.2 372.0 60.0 373.0 59.9 374.0 59.7 375.0 59.6 376.0 59.4 377.0 59.2 378.0 59.1 379.0 58.9 379.9 58.7 380.9 58.5 381.9 58.4 382.9 58.2 383.9 58.0 384.9 57.8 385.9 57.6 386.8 57.3 387.8 57.1 388.8 56.9 389.7 56.6 390.7 56.4 391.7 56.1 392.6 55.8 393.5 55.4 394.5 55.1 395.4 54.7 396.4 54.4 397.3 54.0 398.2 53.6 399.2 53.2 400.1 52.8 401.0 52.4 401.9 52.0 402.8 51.6 403.7 51.2 404.7 50.8 405.6 50.3 406.5 49.9 407.4 49.5 408.3 49.0 409.2 48.6 410.0 48.1 410.9 47.7 411.8 47.2 412.7 46.8 413.6 46.3 414.5 45.9 415.4 45.4 416.4 45.0 417.3 44.6 418.2 44.2 419.1 43.8 420.0 43.4 420.9 42.9 421.8 42.5 422.8 42.1 423.7 41.7 424.6 41.3 425.5 40.9 426.4 40.6 427.4 40.2 428.3 39.8 429.2 39.4 430.2 39.1 431.1 38.7 432.0 38.4 433.0 38.0 433.9 37.7 434.9 37.3 435.8 37.0 436.3 36.8H446.7" fill="none" stroke="#fa5258" stroke-width="1.40" stroke-linejoin="round"/>
<path d="M312.4 40.3L313.3 40.8 314.2 41.3 315.0 41.8 315.9 42.3 316.8 42.8 317.7 43.2 318.5 43.7 319.4 44.2 320.3 44.7 321.2 45.2 322.0 45.7 322.9 46.1 323.8 46.6 324.7 47.1 325.6 47.6 326.5 48.0 327.3 48.5 328.2 49.0 329.1 49.5 330.0 50.0 330.9 50.4 331.7 50.9 332.6 51.4 333.5 51.8 334.4 52.3 335.3 52.8 336.2 53.2 337.1 53.7 338.0 54.1 338.9 54.6 339.8 55.0 340.7 55.5 341.6 55.9 342.5 56.3 343.4 56.8 344.3 57.2 345.2 57.6 346.1 58.1 347.0 58.5 347.9 58.9 348.8 59.3 349.7 59.7 350.7 60.1 351.6 60.5 352.5 60.9 353.4 61.4 354.3 61.7 355.3 62.1 356.2 62.5 357.1 62.9 358.0 63.3 359.0 63.7 359.9 64.1 360.8 64.4 361.7 64.8 362.7 65.2 363.6 65.5 364.6 65.9 365.5 66.2 366.4 66.6 367.4 66.9 368.3 67.3 369.3 67.6 370.2 67.9 371.2 68.2 372.1 68.6 373.1 68.9 374.0 69.1 375.0 69.4 376.0 69.7 376.9 70.0 377.9 70.2 378.9 70.4 379.8 70.7 380.8 70.9 381.8 71.1 382.8 71.4 383.7 71.6 384.7 71.8 385.7 72.0 386.7 72.2 387.7 72.4 388.7 72.6 389.6 72.9 390.6 73.1 391.6 73.3 392.6 73.5 393.6 73.7 394.5 73.9 395.5 74.1 396.5 74.3 397.5 74.5 398.5 74.7 399.5 74.9 400.4 75.1 401.4 75.3 402.4 75.5 403.4 75.6 404.4 75.8 405.4 76.0 406.3 76.2 407.3 76.4 408.3 76.5 409.3 76.7 410.3 76.9 411.3 77.1 412.3 77.2 413.3 77.4 414.2 77.6 415.2 77.8 416.2 78.1 417.2 78.3 418.2 78.5 419.1 78.8 420.1 79.0 421.1 79.3 422.0 79.6 423.0 79.9 423.9 80.2 424.9 80.5 425.8 80.9 426.8 81.3 427.7 81.7 428.6 82.2 429.5 82.7 430.3 83.2 431.1 83.7 431.9 84.3 432.7 85.0 433.4 85.6 434.2 86.4 434.9 87.1 435.6 87.9 436.2 88.7 436.7 89.6 437.2 90.4 437.7 91.3 438.0 92.1 438.4 93.0 438.7 93.9 439.0 94.9 439.3 95.8 439.5 96.8 439.8 97.8 440.0 98.8 440.2 99.8 440.4 100.8 440.6 101.8 440.8 102.9 441.0 103.9 441.1 104.9 441.3 105.9 441.5 106.8 441.6 107.8 441.8 108.8 441.9 109.8 442.1 110.8 442.2 111.8 442.3 112.8 442.4 113.8 442.6 114.8 442.7 115.8 442.8 116.8 442.9 117.8 442.9 118.8 443.0 119.8 443.1 120.8 443.2 121.8 443.2 122.8 443.3 123.8 443.4 124.8 443.4 125.8 443.5 126.8 443.5 127.8 443.6 128.8 443.6 129.8 443.7 130.8 443.7 131.8 443.7 132.8 443.8 133.8" fill="none" stroke="#fa5258" stroke-width="1.40" stroke-linejoin="round"/>
<path d="M312.4 65.8L312.5 64.5 312.7 63.4 313.0 62.3 313.3 61.3 313.8 60.6 314.2 60.0 314.9 59.6 315.6 59.3 316.6 59.1 317.6 59.0 318.7 58.8 319.8 58.7 320.8 58.6 321.8 58.4 322.8 58.3 323.8 58.2 324.8 58.1 325.8 58.1 326.8 58.0 327.8 57.9 328.8 57.8 329.8 57.7 330.8 57.6 331.8 57.5 332.8 57.4 333.8 57.3 334.8 57.2 335.8 57.1 336.8 57.0 337.8 56.9 338.8 56.8 339.8 56.7 340.8 56.6 341.8 56.5 342.8 56.4 343.8 56.4 344.8 56.3 345.8 56.2 346.8 56.1 347.8 56.1 348.8 56.0 349.8 55.9 350.8 55.8 351.8 55.7 352.8 55.7 353.8 55.6 354.8 55.4 355.8 55.3 356.8 55.2 357.8 55.1 358.8 55.0 359.8 54.8 360.8 54.7 361.8 54.6 362.8 54.4 363.8 54.3 364.8 54.1 365.8 53.9 366.8 53.8 367.8 53.6 368.7 53.4 369.7 53.2 370.7 53.0 371.7 52.8 372.7 52.6 373.7 52.4 374.6 52.2 375.6 51.9 376.6 51.7 377.6 51.5 378.5 51.2 379.5 50.9 380.5 50.7 381.4 50.4 382.4 50.1 383.3 49.8 384.3 49.4 385.2 49.1 386.2 48.8 387.1 48.4 388.1 48.1 389.0 47.7 390.0 47.4 390.9 47.0 391.8 46.6 392.7 46.3 393.7 45.9 394.6 45.5 395.5 45.1 396.4 44.6 397.3 44.2 398.3 43.8 399.2 43.4 400.1 43.0 401.0 42.6 401.9 42.2 402.9 41.9 403.8 41.5 404.7 41.1 405.7 40.8 406.6 40.4 407.6 40.0 408.5 39.7 409.4 39.3 410.4 39.0 411.3 38.7 412.3 38.3 413.2 38.0 414.2 37.7 415.1 37.3 416.1 37.0 416.5 36.8H442.4" fill="none" stroke="#2b7ce6" stroke-width="1.40" stroke-linejoin="round"/>
<path d="M312.4 49.5L313.1 50.3 313.7 51.1 314.4 51.9 315.1 52.5 315.9 53.1 316.7 53.7 317.5 54.1 318.4 54.5 319.3 54.9 320.2 55.2 321.2 55.5 322.2 55.8 323.1 56.1 324.1 56.4 325.1 56.7 326.1 57.1 327.1 57.4 328.0 57.8 328.9 58.2 329.8 58.6 330.6 59.1 331.5 59.6 332.3 60.2 333.2 60.8 334.0 61.4 334.8 61.9 335.6 62.5 336.5 63.1 337.3 63.6 338.2 64.1 339.1 64.6 340.0 65.0 340.8 65.5 341.7 65.9 342.6 66.4 343.6 66.8 344.5 67.2 345.4 67.6 346.3 68.0 347.2 68.4 348.1 68.8 349.1 69.2 350.0 69.6 350.9 70.0 351.8 70.4 352.8 70.7 353.7 71.1 354.6 71.4 355.6 71.8 356.5 72.1 357.5 72.5 358.4 72.8 359.4 73.1 360.3 73.4 361.3 73.7 362.2 74.0 363.2 74.3 364.2 74.6 365.1 74.9 366.1 75.1 367.1 75.4 368.0 75.6 369.0 75.9 370.0 76.1 370.9 76.4 371.9 76.6 372.9 76.9 373.9 77.1 374.8 77.3 375.8 77.6 376.8 77.8 377.8 78.1 378.7 78.3 379.7 78.5 380.7 78.8 381.6 79.0 382.6 79.2 383.6 79.5 384.6 79.7 385.5 79.9 386.5 80.2 387.5 80.4 388.5 80.7 389.4 80.9 390.4 81.1 391.4 81.4 392.4 81.6 393.3 81.8 394.3 82.1 395.3 82.3 396.3 82.6 397.2 82.8 398.2 83.0 399.2 83.3 400.1 83.5 401.1 83.8 402.1 84.1 403.0 84.3 404.0 84.6 405.0 84.9 405.9 85.2 406.9 85.5 407.9 85.7 408.8 86.0 409.8 86.3 410.8 86.6 411.8 86.9 412.7 87.3 413.7 87.6 414.6 87.9 415.6 88.3 416.5 88.7 417.4 89.1 418.3 89.5 419.2 89.9 420.0 90.4 420.9 90.9 421.7 91.4 422.5 92.0 423.4 92.6 424.1 93.3 424.9 94.0 425.6 94.7 426.3 95.5 426.9 96.2 427.4 97.0 427.9 97.8 428.4 98.6 428.9 99.5 429.3 100.4 429.8 101.3 430.2 102.3 430.6 103.2 430.9 104.2 431.3 105.2 431.6 106.1 431.9 107.1 432.2 108.1 432.4 109.0 432.7 110.0 432.9 111.0 433.1 111.9 433.3 112.9 433.5 113.9 433.7 114.9 433.9 115.9 434.0 116.9 434.2 117.9 434.4 118.9 434.5 119.9 434.7 120.9 434.8 121.9 434.9 122.8 435.1 123.8 435.2 124.8 435.3 125.8 435.5 126.8 435.6 127.8 435.7 128.8 435.8 129.8 435.9 130.8 436.0 131.8 436.1 132.8 436.2 133.8" fill="none" stroke="#2b7ce6" stroke-width="1.40" stroke-linejoin="round"/>
<path d="M312.4 52.9L313.4 53.0 314.4 53.1 315.4 53.2 316.4 53.3 317.4 53.4 318.4 53.6 319.4 53.7 320.4 53.9 321.4 54.0 322.4 54.2 323.4 54.3 324.3 54.5 325.3 54.6 326.3 54.7 327.3 54.8 328.3 54.8 329.3 54.8 330.3 54.8 331.3 54.8 332.3 54.8 333.3 54.8 334.3 54.8 335.3 54.7 336.3 54.7 337.3 54.7 338.4 54.6 339.4 54.6 340.4 54.6 341.4 54.5 342.4 54.5 343.4 54.5 344.4 54.4 345.4 54.4 346.4 54.3 347.4 54.3 348.4 54.2 349.4 54.2 350.4 54.1 351.4 54.1 352.4 54.0 353.4 54.0 354.4 53.9 355.4 53.8 356.4 53.8 357.4 53.7 358.4 53.6 359.4 53.5 360.4 53.4 361.4 53.3 362.4 53.2 363.4 53.1 364.4 53.0 365.4 52.9 366.4 52.8 367.3 52.7 368.3 52.5 369.3 52.4 370.3 52.2 371.3 52.1 372.3 51.9 373.3 51.8 374.3 51.6 375.3 51.5 376.3 51.3 377.3 51.1 378.3 51.0 379.2 50.8 380.2 50.7 381.2 50.5 382.2 50.4 383.2 50.2 384.2 50.0 385.2 49.9 386.2 49.7 387.2 49.5 388.1 49.3 389.1 49.1 390.1 48.9 391.1 48.7 392.0 48.5 393.0 48.2 394.0 47.9 394.9 47.7 395.9 47.4 396.9 47.1 397.8 46.8 398.8 46.5 399.7 46.1 400.7 45.8 401.6 45.5 402.6 45.2 403.5 44.9 404.5 44.6 405.4 44.3 406.4 43.9 407.3 43.6 408.3 43.3 409.2 42.9 410.2 42.6 411.1 42.3 412.1 41.9 413.0 41.6 414.0 41.3 414.9 41.0 415.9 40.7 416.8 40.4 417.8 40.0 418.7 39.7 419.7 39.4 420.7 39.0 421.6 38.7 422.6 38.4 423.5 38.1 424.5 37.9 425.5 37.6 426.5 37.4 427.4 37.3 428.4 37.2 429.4 37.1 430.4 37.0 431.4 36.9 432.4 36.8H459.3" fill="none" stroke="#1aab6b" stroke-width="1.40" stroke-linejoin="round"/>
<path d="M312.4 47.2L313.0 48.0 313.7 48.8 314.3 49.6 315.0 50.3 315.6 51.1 316.3 51.8 317.0 52.5 317.7 53.2 318.5 53.9 319.2 54.6 320.0 55.2 320.7 55.9 321.5 56.5 322.3 57.2 323.1 57.8 323.9 58.4 324.7 59.0 325.5 59.6 326.3 60.2 327.1 60.7 328.0 61.3 328.8 61.8 329.7 62.3 330.5 62.8 331.4 63.3 332.3 63.8 333.2 64.2 334.1 64.6 335.0 65.1 335.9 65.5 336.8 66.0 337.7 66.5 338.6 67.0 339.4 67.5 340.3 68.0 341.1 68.5 342.0 69.1 342.8 69.6 343.7 70.2 344.5 70.7 345.4 71.2 346.2 71.8 347.1 72.3 348.0 72.7 348.9 73.2 349.8 73.6 350.7 74.0 351.6 74.4 352.5 74.8 353.4 75.1 354.4 75.4 355.3 75.8 356.3 76.1 357.2 76.4 358.2 76.7 359.2 77.0 360.1 77.3 361.1 77.5 362.1 77.8 363.0 78.1 364.0 78.4 365.0 78.6 365.9 78.9 366.9 79.2 367.9 79.4 368.8 79.7 369.8 79.9 370.8 80.1 371.7 80.4 372.7 80.6 373.7 80.9 374.7 81.1 375.6 81.3 376.6 81.6 377.6 81.8 378.6 82.0 379.5 82.2 380.5 82.4 381.5 82.6 382.5 82.9 383.5 83.1 384.4 83.3 385.4 83.5 386.4 83.8 387.4 84.0 388.3 84.2 389.3 84.5 390.3 84.7 391.3 85.0 392.2 85.2 393.2 85.5 394.2 85.8 395.2 86.0 396.1 86.3 397.1 86.6 398.1 86.9 399.0 87.2 400.0 87.5 400.9 87.8 401.9 88.1 402.8 88.4 403.7 88.8 404.6 89.2 405.6 89.6 406.5 90.0 407.4 90.4 408.3 90.8 409.2 91.3 410.1 91.8 410.9 92.4 411.8 92.9 412.6 93.5 413.4 94.1 414.1 94.7 414.9 95.4 415.6 96.0 416.3 96.8 417.0 97.5 417.6 98.3 418.2 99.1 418.8 99.9 419.4 100.8 419.9 101.6 420.4 102.5 420.8 103.4 421.3 104.3 421.7 105.2 422.1 106.1 422.4 107.1 422.8 108.0 423.1 109.0 423.3 110.0 423.6 110.9 423.8 111.9 424.0 112.9 424.1 113.8 424.3 114.8 424.5 115.8 424.6 116.8 424.7 117.8 424.9 118.8 425.0 119.8 425.1 120.8 425.2 121.8 425.3 122.8 425.4 123.8 425.5 124.8 425.6 125.8 425.7 126.8 425.8 127.8 425.9 128.8 425.9 129.8 426.0 130.8 426.1 131.8 426.1 132.8 426.2 133.8" fill="none" stroke="#1aab6b" stroke-width="1.40" stroke-linejoin="round"/>
<path d="M313.3 57.6L314.2 57.1 315.0 56.5 315.8 55.9 316.7 55.4 317.5 54.8 318.3 54.2 319.1 53.6 320.0 53.0 320.8 52.4 321.6 51.8 322.4 51.2 323.2 50.6 324.0 50.0 324.8 49.4 325.6 48.8 326.5 48.2 327.3 47.7 328.2 47.3 329.1 46.9 330.0 46.5 330.9 46.2 331.9 45.9 332.8 45.6 333.8 45.4 334.8 45.1 335.8 44.9 336.8 44.7 337.7 44.4 338.7 44.1 339.7 43.8 340.6 43.5 341.6 43.2 342.5 42.9 343.5 42.5 344.4 42.2 345.3 41.8 346.3 41.5 347.2 41.1 348.1 40.7 349.1 40.3 350.0 39.9 350.9 39.5 351.8 39.1 352.7 38.6 353.6 38.2 354.5 37.8 355.4 37.3 356.3 36.8H399.8" fill="none" stroke="#c47ae9" stroke-width="1.40" stroke-linejoin="round"/>
<path d="M312.4 53.3L312.8 54.2 313.3 55.1 313.8 56.0 314.3 56.9 314.9 57.7 315.5 58.4 316.1 59.2 316.8 59.9 317.5 60.5 318.2 61.2 319.0 61.8 319.7 62.5 320.5 63.1 321.4 63.7 322.2 64.3 323.0 64.9 323.9 65.5 324.7 66.1 325.5 66.7 326.3 67.3 327.2 68.0 327.9 68.6 328.7 69.2 329.5 69.9 330.2 70.6 331.0 71.2 331.7 71.9 332.5 72.6 333.2 73.3 334.0 73.9 334.7 74.6 335.5 75.2 336.3 75.8 337.1 76.5 337.9 77.1 338.7 77.7 339.5 78.3 340.3 78.8 341.1 79.4 342.0 80.0 342.8 80.6 343.6 81.1 344.5 81.6 345.3 82.2 346.2 82.7 347.0 83.2 347.9 83.7 348.8 84.2 349.7 84.6 350.6 85.1 351.5 85.6 352.4 86.0 353.3 86.5 354.2 86.9 355.1 87.3 356.0 87.7 356.9 88.2 357.8 88.6 358.7 89.0 359.7 89.4 360.6 89.7 361.5 90.1 362.5 90.5 363.4 90.8 364.3 91.2 365.3 91.6 366.2 91.9 367.1 92.3 368.1 92.7 369.0 93.0 370.0 93.4 370.9 93.7 371.9 94.1 372.8 94.4 373.8 94.7 374.7 95.1 375.6 95.5 376.6 95.9 377.5 96.3 378.3 96.7 379.2 97.2 380.1 97.7 381.0 98.2 381.8 98.7 382.7 99.3 383.5 99.9 384.3 100.6 385.1 101.2 385.8 101.9 386.5 102.6 387.1 103.3 387.8 104.0 388.3 104.8 388.9 105.6 389.4 106.5 389.9 107.4 390.4 108.3 390.9 109.2 391.4 110.1 391.8 111.0 392.2 112.0 392.6 112.9 392.9 113.8 393.3 114.8 393.6 115.7 393.9 116.7 394.2 117.6 394.5 118.6 394.8 119.6 395.0 120.5 395.3 121.5 395.5 122.5 395.8 123.5 396.0 124.4 396.2 125.4 396.4 126.4 396.6 127.4 396.8 128.3 397.0 129.3 397.2 130.3 397.4 131.3 397.5 132.3 397.7 133.3 397.7 133.8" fill="none" stroke="#c47ae9" stroke-width="1.40" stroke-linejoin="round"/>
<path d="M312.4 62.0L312.6 61.0 312.7 60.0 312.9 59.0 313.1 58.0 313.3 57.0 313.5 56.0 313.7 55.0 313.9 54.1 314.1 53.1 314.4 52.1 314.6 51.1 314.9 50.2 315.2 49.2 315.4 48.2 315.7 47.3 316.0 46.3 316.4 45.4 316.7 44.4 317.1 43.5 317.4 42.5 317.9 41.6 318.3 40.7 318.8 39.9 319.3 39.0 319.8 38.1 320.3 37.3 320.6 36.8H347.7" fill="none" stroke="#e3a01a" stroke-width="1.40" stroke-linejoin="round"/>
<path d="M312.4 94.7L313.3 94.7 314.2 94.9 314.8 95.2 315.3 95.7 315.7 96.4 316.1 97.4 316.4 98.5 316.7 99.7 317.0 100.8 317.4 101.9 317.8 102.9 318.2 103.9 318.7 104.8 319.2 105.6 319.7 106.5 320.2 107.4 320.8 108.2 321.3 109.1 321.9 109.9 322.4 110.7 323.0 111.5 323.6 112.3 324.2 113.1 324.8 113.9 325.4 114.7 326.1 115.5 326.7 116.3 327.4 117.1 328.0 117.8 328.7 118.6 329.4 119.3 330.0 120.1 330.7 120.8 331.4 121.5 332.1 122.2 332.9 122.9 333.6 123.6 334.3 124.3 335.0 124.9 335.8 125.6 336.5 126.2 337.3 126.9 338.1 127.5 338.8 128.2 339.6 128.8 340.4 129.4 341.2 130.0 342.0 130.6 342.8 131.2 343.7 131.8 344.5 132.4 345.3 133.0 346.2 133.5 346.6 133.8" fill="none" stroke="#e3a01a" stroke-width="1.40" stroke-linejoin="round"/>
<rect x="475.30" y="19.40" width="39.20" height="60.60" fill="#fff" stroke="#c8c8c8" stroke-width="0.8"/>
<path d="M475.90 25.20H494.50" stroke="#505050" stroke-width="1.7"/>
<text x="496.30" y="27.90" class="lg">0.1 C</text>
<path d="M475.90 35.08H494.50" stroke="#fa5258" stroke-width="1.7"/>
<text x="496.30" y="37.78" class="lg">0.5 C</text>
<path d="M475.90 44.96H494.50" stroke="#2b7ce6" stroke-width="1.7"/>
<text x="496.30" y="47.66" class="lg">1 C</text>
<path d="M475.90 54.84H494.50" stroke="#1aab6b" stroke-width="1.7"/>
<text x="496.30" y="57.54" class="lg">2 C</text>
<path d="M475.90 64.72H494.50" stroke="#c47ae9" stroke-width="1.7"/>
<text x="496.30" y="67.42" class="lg">5 C</text>
<path d="M475.90 74.60H494.50" stroke="#e3a01a" stroke-width="1.7"/>
<text x="496.30" y="77.30" class="lg">10 C</text>
<path d="M35.50 217.95 V370.30 H224.90" fill="none" stroke="#4f4f4f" stroke-width="1.05"/>
<path d="M32.70 370.30H35.50M34.00 363.38H35.50M32.70 356.45H35.50M34.00 349.53H35.50M32.70 342.60H35.50M34.00 335.68H35.50M32.70 328.75H35.50M34.00 321.82H35.50M32.70 314.90H35.50M34.00 307.98H35.50M32.70 301.05H35.50M34.00 294.12H35.50M32.70 287.20H35.50M34.00 280.27H35.50M32.70 273.35H35.50M34.00 266.43H35.50M32.70 259.50H35.50M34.00 252.57H35.50M32.70 245.65H35.50M34.00 238.72H35.50M32.70 231.80H35.50M34.00 224.88H35.50M32.70 217.95H35.50M35.50 370.30V373.10M44.97 370.30V371.80M54.44 370.30V373.10M63.91 370.30V371.80M73.38 370.30V373.10M82.85 370.30V371.80M92.32 370.30V373.10M101.79 370.30V371.80M111.26 370.30V373.10M120.73 370.30V371.80M130.20 370.30V373.10M139.67 370.30V371.80M149.14 370.30V373.10M158.61 370.30V371.80M168.08 370.30V373.10M177.55 370.30V371.80M187.02 370.30V373.10M196.49 370.30V371.80M205.96 370.30V373.10M215.43 370.30V371.80M224.90 370.30V373.10" stroke="#4f4f4f" stroke-width="0.95"/>
<text x="30.70" y="372.70" class="tl" text-anchor="end">2.4</text>
<text x="30.70" y="358.85" class="tl" text-anchor="end">2.6</text>
<text x="30.70" y="345.00" class="tl" text-anchor="end">2.8</text>
<text x="30.70" y="331.15" class="tl" text-anchor="end">3.0</text>
<text x="30.70" y="317.30" class="tl" text-anchor="end">3.2</text>
<text x="30.70" y="303.45" class="tl" text-anchor="end">3.4</text>
<text x="30.70" y="289.60" class="tl" text-anchor="end">3.6</text>
<text x="30.70" y="275.75" class="tl" text-anchor="end">3.8</text>
<text x="30.70" y="261.90" class="tl" text-anchor="end">4.0</text>
<text x="30.70" y="248.05" class="tl" text-anchor="end">4.2</text>
<text x="30.70" y="234.20" class="tl" text-anchor="end">4.4</text>
<text x="30.70" y="220.35" class="tl" text-anchor="end">4.6</text>
<text x="35.50" y="380.80" class="tl" text-anchor="middle">0</text>
<text x="54.44" y="380.80" class="tl" text-anchor="middle">20</text>
<text x="73.38" y="380.80" class="tl" text-anchor="middle">40</text>
<text x="92.32" y="380.80" class="tl" text-anchor="middle">60</text>
<text x="111.26" y="380.80" class="tl" text-anchor="middle">80</text>
<text x="130.20" y="380.80" class="tl" text-anchor="middle">100</text>
<text x="149.14" y="380.80" class="tl" text-anchor="middle">120</text>
<text x="168.08" y="380.80" class="tl" text-anchor="middle">140</text>
<text x="187.02" y="380.80" class="tl" text-anchor="middle">160</text>
<text x="205.96" y="380.80" class="tl" text-anchor="middle">180</text>
<text x="224.90" y="380.80" class="tl" text-anchor="middle">200</text>
<path d="M35.5 283.2L36.5 283.0 37.5 282.8 38.5 282.7 39.4 282.5 40.4 282.3 41.4 282.2 42.4 282.0 43.4 281.9 44.4 281.7 45.4 281.6 46.4 281.4 47.4 281.3 48.4 281.1 49.4 281.0 50.3 280.9 51.3 280.8 52.3 280.6 53.3 280.5 54.3 280.4 55.3 280.3 56.3 280.2 57.3 280.0 58.3 279.9 59.3 279.8 60.3 279.6 61.3 279.5 62.3 279.4 63.3 279.2 64.2 279.0 65.2 278.9 66.2 278.7 67.2 278.6 68.2 278.4 69.2 278.3 70.2 278.1 71.2 278.0 72.2 277.9 73.2 277.8 74.2 277.7 75.2 277.5 76.2 277.4 77.2 277.3 78.2 277.2 79.1 277.1 80.1 277.0 81.1 276.9 82.1 276.8 83.1 276.7 84.1 276.6 85.1 276.5 86.1 276.3 87.1 276.2 88.1 276.1 89.1 275.9 90.1 275.8 91.1 275.6 92.1 275.5 93.1 275.3 94.0 275.2 95.0 275.1 96.0 274.9 97.0 274.8 98.0 274.7 99.0 274.6 100.0 274.5 101.0 274.4 102.0 274.3 103.0 274.2 104.0 274.1 105.0 274.0 106.0 273.9 107.0 273.8 108.0 273.7 109.0 273.5 110.0 273.4 111.0 273.2 111.9 273.1 112.9 272.9 113.9 272.7 114.9 272.5 115.9 272.3 116.9 272.1 117.8 271.9 118.8 271.7 119.8 271.4 120.8 271.2 121.7 270.9 122.7 270.7 123.7 270.4 124.6 270.2 125.6 269.9 126.6 269.6 127.5 269.3 128.5 269.0 129.4 268.7 130.4 268.4 131.3 268.1 132.3 267.7 133.2 267.4 134.2 267.0 135.1 266.7 136.0 266.3 136.9 265.9 137.9 265.5 138.8 265.1 139.7 264.7 140.6 264.3 141.5 263.9 142.4 263.5 143.3 263.0 144.2 262.6 145.2 262.2 146.1 261.8 147.0 261.3 147.9 260.9 148.8 260.4 149.7 260.0 150.6 259.6 151.5 259.1 152.4 258.7 153.2 258.2 154.1 257.7 155.0 257.3 155.9 256.8 156.8 256.4 157.7 256.0 158.6 255.5 159.5 255.1 160.4 254.7 161.3 254.2 162.2 253.8 163.2 253.4 164.1 252.9 165.0 252.5 165.9 252.1 166.8 251.7 167.7 251.3 168.6 250.9 169.5 250.5 170.5 250.1 171.4 249.7 172.3 249.4 173.3 249.0 174.2 248.7 175.1 248.3 176.1 248.0 177.0 247.6 178.0 247.3 178.9 247.0 179.9 246.7 180.8 246.4 181.8 246.1 182.8 245.8 183.2 245.7" fill="none" stroke="#505050" stroke-width="1.40" stroke-linejoin="round"/>
<path d="M35.5 245.7L36.4 246.2 37.2 246.7 38.1 247.2 39.0 247.7 39.8 248.2 40.7 248.7 41.6 249.2 42.5 249.7 43.3 250.2 44.2 250.7 45.1 251.2 45.9 251.7 46.8 252.2 47.7 252.6 48.6 253.1 49.4 253.6 50.3 254.1 51.2 254.6 52.1 255.1 52.9 255.6 53.8 256.1 54.7 256.6 55.6 257.0 56.5 257.5 57.3 258.0 58.2 258.4 59.1 258.9 60.0 259.3 60.9 259.7 61.8 260.2 62.7 260.6 63.7 261.0 64.6 261.4 65.5 261.8 66.4 262.2 67.3 262.6 68.2 263.0 69.2 263.4 70.1 263.8 71.0 264.2 71.9 264.6 72.8 265.0 73.7 265.4 74.7 265.9 75.6 266.3 76.5 266.7 77.4 267.1 78.3 267.5 79.3 267.8 80.2 268.2 81.1 268.6 82.1 269.0 83.0 269.3 83.9 269.6 84.9 270.0 85.8 270.3 86.8 270.6 87.7 270.9 88.7 271.3 89.6 271.6 90.6 271.8 91.6 272.1 92.5 272.4 93.5 272.7 94.5 272.9 95.4 273.2 96.4 273.4 97.4 273.7 98.3 273.9 99.3 274.1 100.3 274.3 101.3 274.5 102.3 274.7 103.2 274.9 104.2 275.1 105.2 275.3 106.2 275.4 107.2 275.6 108.2 275.8 109.2 276.0 110.2 276.1 111.1 276.3 112.1 276.4 113.1 276.6 114.1 276.7 115.1 276.9 116.1 277.0 117.1 277.2 118.1 277.3 119.1 277.5 120.1 277.6 121.0 277.8 122.0 278.0 123.0 278.1 124.0 278.3 125.0 278.5 126.0 278.7 126.9 278.9 127.9 279.1 128.9 279.3 129.9 279.5 130.9 279.7 131.9 279.9 132.8 280.1 133.8 280.2 134.8 280.4 135.8 280.6 136.8 280.7 137.8 280.9 138.8 281.0 139.8 281.2 140.8 281.3 141.7 281.5 142.7 281.7 143.7 281.8 144.7 282.0 145.7 282.1 146.7 282.3 147.7 282.5 148.7 282.7 149.6 282.8 150.6 283.0 151.6 283.2 152.6 283.4 153.6 283.6 154.6 283.8 155.6 284.0 156.5 284.2 157.5 284.4 158.5 284.6 159.5 284.8 160.4 285.1 161.4 285.3 162.4 285.5 163.4 285.8 164.3 286.1 165.3 286.3 166.3 286.7 167.2 287.0 168.1 287.3 169.1 287.7 170.0 288.1 170.9 288.6 171.7 289.1 172.6 289.7 173.3 290.3 174.0 291.0 174.7 291.7 175.3 292.5 175.9 293.3 176.4 294.2 176.8 295.1 177.3 296.0 177.6 296.9 178.0 297.8 178.4 298.8 178.7 299.8 178.9 300.7 179.2 301.7 179.4 302.7 179.6 303.7 179.8 304.6 179.9 305.6 180.0 306.6 180.2 307.6 180.3 308.6 180.4 309.6 180.5 310.6 180.6 311.6 180.7 312.6 180.8 313.6 180.9 314.6 181.0 315.6 181.1 316.6 181.2 317.6 181.3 318.6 181.4 319.6 181.5 320.6 181.6 321.6 181.7 322.6 181.8 323.6 181.9 324.6 182.0 325.6 182.1 326.6 182.1 327.6 182.2 328.6 182.2 329.6 182.3 330.6 182.3 331.6 182.3 332.6 182.4 333.6 182.4 334.6 182.4 335.6 182.5 336.6 182.5 337.6 182.5 338.6 182.5 339.6 182.6 340.6 182.6 341.6 182.6 342.6" fill="none" stroke="#505050" stroke-width="1.40" stroke-linejoin="round"/>
<path d="M35.5 290.7L35.5 289.6 35.5 288.6 35.5 287.6 35.6 286.6 35.6 285.6 35.7 284.6 35.7 283.6 35.8 282.6 35.9 281.6 36.0 280.6 36.2 279.6 36.4 278.6 36.8 277.7 37.3 277.0 37.8 276.5 38.5 276.2 39.4 276.0 40.3 275.9 41.4 275.8 42.5 275.7 43.6 275.6 44.7 275.5 45.8 275.4 46.8 275.3 47.9 275.3 48.9 275.2 49.9 275.1 50.9 275.1 51.9 275.0 52.9 275.0 53.9 274.9 54.9 274.9 55.9 274.8 56.9 274.8 57.9 274.7 58.9 274.7 59.9 274.6 60.9 274.6 61.9 274.5 62.8 274.4 63.8 274.4 64.8 274.3 65.8 274.2 66.8 274.1 67.8 274.1 68.8 274.0 69.8 273.9 70.8 273.8 71.8 273.8 72.8 273.7 73.8 273.6 74.8 273.5 75.8 273.5 76.8 273.4 77.8 273.3 78.8 273.2 79.8 273.1 80.8 273.1 81.8 273.0 82.8 272.9 83.8 272.8 84.8 272.7 85.8 272.6 86.8 272.6 87.8 272.5 88.8 272.4 89.8 272.3 90.8 272.2 91.8 272.1 92.8 272.0 93.8 271.9 94.8 271.8 95.7 271.7 96.7 271.6 97.7 271.5 98.7 271.4 99.7 271.2 100.7 271.1 101.7 270.9 102.7 270.8 103.7 270.6 104.7 270.5 105.7 270.3 106.6 270.2 107.6 270.0 108.6 269.8 109.6 269.6 110.6 269.4 111.5 269.2 112.5 269.0 113.5 268.7 114.5 268.5 115.4 268.2 116.4 268.0 117.4 267.7 118.3 267.5 119.3 267.2 120.3 266.9 121.2 266.7 122.2 266.4 123.2 266.2 124.1 265.9 125.1 265.6 126.1 265.4 127.0 265.1 128.0 264.9 129.0 264.6 129.9 264.3 130.9 264.1 131.9 263.8 132.8 263.5 133.7 263.2 134.7 262.8 135.6 262.5 136.6 262.1 137.5 261.8 138.4 261.4 139.3 261.0 140.2 260.6 141.1 260.2 142.1 259.7 143.0 259.3 143.9 258.9 144.8 258.5 145.7 258.1 146.6 257.7 147.5 257.3 148.5 256.9 149.4 256.5 150.3 256.1 151.2 255.7 152.1 255.3 153.0 254.9 154.0 254.5 154.9 254.1 155.8 253.7 156.7 253.3 157.6 252.9 158.6 252.5 159.5 252.1 160.4 251.8 161.4 251.4 162.3 251.0 163.2 250.7 164.2 250.3 165.1 249.9 166.0 249.6 167.0 249.2 167.9 248.9 168.8 248.6 169.8 248.3 170.7 247.9 171.7 247.7 172.7 247.4 173.6 247.1 174.6 246.8 175.5 246.6 176.5 246.3 177.5 246.1 178.5 245.9 179.4 245.7H181.0" fill="none" stroke="#fa5258" stroke-width="1.40" stroke-linejoin="round"/>
<path d="M35.5 248.8L36.3 249.4 37.2 249.9 38.0 250.5 38.8 251.0 39.7 251.6 40.5 252.1 41.4 252.7 42.2 253.2 43.1 253.7 43.9 254.2 44.8 254.8 45.6 255.3 46.5 255.8 47.4 256.3 48.2 256.8 49.1 257.3 50.0 257.8 50.8 258.3 51.7 258.8 52.6 259.3 53.5 259.7 54.3 260.2 55.2 260.7 56.1 261.1 57.0 261.6 57.9 262.0 58.8 262.5 59.7 262.9 60.6 263.3 61.5 263.7 62.4 264.1 63.4 264.5 64.3 264.9 65.2 265.3 66.1 265.6 67.1 266.0 68.0 266.4 68.9 266.7 69.9 267.1 70.8 267.4 71.8 267.8 72.7 268.1 73.6 268.4 74.6 268.7 75.5 269.0 76.5 269.3 77.5 269.6 78.4 269.9 79.4 270.2 80.3 270.5 81.3 270.8 82.2 271.1 83.2 271.4 84.2 271.7 85.1 272.0 86.0 272.3 87.0 272.7 87.9 273.0 88.9 273.4 89.8 273.7 90.7 274.1 91.7 274.4 92.6 274.8 93.6 275.1 94.5 275.4 95.5 275.7 96.4 275.9 97.4 276.2 98.4 276.4 99.4 276.6 100.3 276.8 101.3 277.0 102.3 277.2 103.3 277.4 104.3 277.6 105.3 277.7 106.2 277.9 107.2 278.1 108.2 278.3 109.2 278.5 110.2 278.7 111.2 278.8 112.1 279.0 113.1 279.2 114.1 279.4 115.1 279.6 116.1 279.8 117.0 280.0 118.0 280.2 119.0 280.4 120.0 280.6 121.0 280.8 121.9 281.0 122.9 281.2 123.9 281.4 124.9 281.6 125.9 281.8 126.8 282.0 127.8 282.2 128.8 282.4 129.8 282.7 130.7 282.9 131.7 283.1 132.7 283.3 133.7 283.5 134.7 283.7 135.6 284.0 136.6 284.2 137.6 284.4 138.6 284.6 139.6 284.8 140.6 285.0 141.6 285.2 142.5 285.5 143.5 285.7 144.4 286.0 145.4 286.3 146.3 286.7 147.2 287.1 148.1 287.6 148.9 288.1 149.8 288.6 150.7 289.1 151.6 289.6 152.5 290.1 153.4 290.6 154.2 291.1 155.1 291.7 155.9 292.2 156.7 292.8 157.4 293.5 158.1 294.1 158.8 294.8 159.4 295.5 160.0 296.3 160.6 297.2 161.2 298.0 161.7 298.9 162.2 299.8 162.6 300.7 163.1 301.6 163.4 302.6 163.8 303.5 164.1 304.4 164.4 305.3 164.6 306.3 164.9 307.3 165.1 308.2 165.4 309.2 165.6 310.2 165.8 311.2 166.0 312.2 166.1 313.2 166.3 314.2 166.4 315.2 166.6 316.2 166.7 317.2 166.8 318.2 167.0 319.1 167.1 320.1 167.2 321.1 167.3 322.1 167.4 323.1 167.5 324.1 167.6 325.1 167.7 326.1 167.8 327.1 167.8 328.1 167.9 329.1 168.0 330.1 168.0 331.1 168.1 332.1 168.2 333.1 168.2 334.1 168.3 335.1 168.3 336.1 168.4 337.1 168.4 338.1 168.4 339.1 168.5 340.1 168.5 341.1 168.5 342.1 168.6 342.6" fill="none" stroke="#fa5258" stroke-width="1.40" stroke-linejoin="round"/>
<path d="M35.5 280.3L35.7 279.3 35.9 278.3 36.3 277.4 36.8 276.5 37.4 275.7 38.1 275.1 38.9 274.7 39.8 274.5 40.7 274.3 41.7 274.2 42.7 274.1 43.7 274.0 44.8 273.9 45.8 273.8 46.9 273.7 47.9 273.7 48.9 273.6 49.9 273.6 50.9 273.5 51.9 273.5 52.9 273.4 53.9 273.4 54.9 273.3 55.9 273.3 56.9 273.2 57.9 273.2 58.9 273.1 59.9 273.0 60.9 273.0 61.9 272.9 62.9 272.8 63.9 272.8 64.9 272.7 65.9 272.6 66.9 272.6 67.9 272.5 68.9 272.4 69.9 272.3 70.9 272.3 71.9 272.2 72.8 272.1 73.8 272.0 74.8 271.9 75.8 271.8 76.8 271.6 77.8 271.5 78.8 271.4 79.8 271.2 80.8 271.1 81.8 270.9 82.8 270.8 83.8 270.6 84.7 270.4 85.7 270.2 86.7 270.0 87.7 269.8 88.6 269.5 89.6 269.2 90.6 269.0 91.5 268.7 92.5 268.4 93.4 268.1 94.4 267.8 95.4 267.5 96.3 267.2 97.3 266.9 98.2 266.6 99.2 266.3 100.1 266.0 101.1 265.6 102.0 265.3 102.9 265.0 103.9 264.6 104.8 264.3 105.8 263.9 106.7 263.6 107.7 263.3 108.6 262.9 109.5 262.6 110.5 262.3 111.4 261.9 112.4 261.6 113.3 261.3 114.3 260.9 115.2 260.6 116.2 260.3 117.1 260.0 118.1 259.6 119.0 259.3 120.0 259.0 120.9 258.7 121.8 258.3 122.8 258.0 123.7 257.7 124.7 257.4 125.6 257.1 126.6 256.8 127.6 256.5 128.5 256.1 129.5 255.8 130.4 255.5 131.4 255.2 132.3 254.8 133.2 254.5 134.2 254.2 135.1 253.8 136.0 253.4 137.0 253.1 137.9 252.7 138.8 252.3 139.8 251.9 140.7 251.5 141.6 251.1 142.5 250.7 143.4 250.3 144.3 249.9 145.2 249.5 146.1 249.0 147.0 248.6 147.9 248.1 148.8 247.7 149.7 247.2 150.5 246.7 151.4 246.2 152.3 245.6H163.3" fill="none" stroke="#2b7ce6" stroke-width="1.40" stroke-linejoin="round"/>
<path d="M35.5 249.5L36.3 250.1 37.1 250.7 37.9 251.3 38.8 251.9 39.6 252.4 40.4 253.0 41.2 253.6 42.1 254.1 42.9 254.7 43.8 255.2 44.6 255.8 45.5 256.3 46.3 256.8 47.2 257.3 48.0 257.9 48.9 258.4 49.7 258.9 50.6 259.4 51.5 259.9 52.4 260.4 53.2 260.8 54.1 261.3 55.0 261.8 55.9 262.3 56.8 262.7 57.7 263.2 58.6 263.6 59.5 264.1 60.4 264.5 61.3 265.0 62.2 265.4 63.1 265.8 64.0 266.3 64.9 266.7 65.8 267.1 66.7 267.5 67.7 267.9 68.6 268.3 69.5 268.7 70.4 269.1 71.4 269.5 72.3 269.8 73.2 270.2 74.1 270.6 75.1 270.9 76.0 271.3 77.0 271.6 77.9 272.0 78.8 272.3 79.8 272.7 80.7 273.0 81.7 273.3 82.6 273.7 83.6 274.0 84.5 274.3 85.5 274.6 86.4 274.9 87.4 275.2 88.3 275.5 89.3 275.8 90.3 276.1 91.2 276.4 92.2 276.7 93.1 277.0 94.1 277.3 95.1 277.5 96.1 277.8 97.0 278.0 98.0 278.2 99.0 278.4 100.0 278.7 100.9 278.8 101.9 279.0 102.9 279.2 103.9 279.4 104.9 279.6 105.9 279.8 106.9 280.0 107.8 280.1 108.8 280.3 109.8 280.5 110.8 280.7 111.8 280.9 112.8 281.1 113.8 281.3 114.7 281.5 115.7 281.6 116.7 281.8 117.7 282.0 118.7 282.2 119.7 282.4 120.6 282.6 121.6 282.9 122.6 283.1 123.6 283.3 124.5 283.6 125.5 283.8 126.5 284.1 127.4 284.4 128.4 284.7 129.4 284.9 130.3 285.2 131.3 285.5 132.2 285.8 133.2 286.1 134.2 286.4 135.1 286.7 136.1 287.0 137.1 287.3 138.0 287.6 139.0 287.9 139.9 288.3 140.9 288.6 141.8 289.0 142.7 289.4 143.6 289.8 144.5 290.2 145.5 290.7 146.4 291.2 147.3 291.7 148.2 292.3 149.0 292.8 149.9 293.4 150.6 294.1 151.3 294.7 151.9 295.4 152.5 296.1 153.0 296.9 153.5 297.7 153.9 298.6 154.4 299.5 154.8 300.5 155.2 301.4 155.5 302.4 155.9 303.4 156.2 304.4 156.5 305.4 156.8 306.3 157.0 307.3 157.3 308.3 157.5 309.2 157.8 310.2 158.0 311.2 158.3 312.2 158.5 313.2 158.7 314.1 158.9 315.1 159.1 316.1 159.2 317.1 159.4 318.1 159.5 319.1 159.7 320.1 159.8 321.1 159.9 322.1 160.0 323.1 160.1 324.1 160.2 325.1 160.3 326.1 160.4 327.1 160.5 328.0 160.6 329.0 160.7 330.0 160.7 331.0 160.8 332.0 160.9 333.0 161.0 334.0 161.0 335.0 161.1 336.1 161.1 337.1 161.2 338.1 161.2 339.1 161.2 340.1 161.2 341.1 161.3 342.1 161.3 342.6" fill="none" stroke="#2b7ce6" stroke-width="1.40" stroke-linejoin="round"/>
<path d="M35.5 275.1L36.0 274.0 36.5 273.0 37.1 272.1 37.8 271.4 38.5 270.8 39.2 270.5 40.0 270.2 41.0 270.1 41.9 270.0 43.0 269.9 44.0 269.8 45.1 269.8 46.1 269.7 47.1 269.7 48.1 269.6 49.1 269.6 50.2 269.5 51.2 269.5 52.2 269.5 53.2 269.4 54.2 269.4 55.2 269.4 56.2 269.3 57.2 269.3 58.2 269.2 59.2 269.2 60.2 269.1 61.2 269.1 62.2 269.0 63.2 268.9 64.2 268.8 65.2 268.7 66.2 268.6 67.2 268.5 68.2 268.4 69.2 268.3 70.2 268.2 71.2 268.1 72.2 268.0 73.2 267.9 74.2 267.7 75.2 267.6 76.2 267.5 77.2 267.4 78.2 267.2 79.2 267.1 80.1 266.9 81.1 266.8 82.1 266.6 83.1 266.4 84.1 266.2 85.1 266.0 86.0 265.8 87.0 265.6 88.0 265.3 89.0 265.1 89.9 264.8 90.9 264.5 91.9 264.2 92.8 263.9 93.8 263.6 94.7 263.3 95.7 263.0 96.6 262.7 97.6 262.3 98.5 262.0 99.5 261.7 100.4 261.3 101.3 260.9 102.3 260.6 103.2 260.2 104.1 259.8 105.1 259.4 106.0 259.0 106.9 258.7 107.9 258.3 108.8 257.9 109.7 257.5 110.6 257.1 111.6 256.8 112.5 256.4 113.4 256.0 114.4 255.6 115.3 255.2 116.2 254.9 117.1 254.5 118.1 254.1 119.0 253.7 119.9 253.3 120.9 253.0 121.8 252.6 122.7 252.2 123.7 251.9 124.6 251.5 125.6 251.2 126.5 250.9 127.5 250.5 128.4 250.2 129.3 249.8 130.3 249.5 131.2 249.1 132.1 248.7 133.1 248.4 134.0 248.0 134.9 247.6 135.8 247.2 136.7 246.7 137.7 246.3 138.6 245.9 139.0 245.6H153.4" fill="none" stroke="#1aab6b" stroke-width="1.40" stroke-linejoin="round"/>
<path d="M35.5 251.4L36.3 252.0 37.1 252.6 37.9 253.1 38.8 253.7 39.6 254.3 40.4 254.9 41.2 255.4 42.1 256.0 42.9 256.5 43.7 257.1 44.6 257.6 45.4 258.2 46.2 258.7 47.1 259.3 47.9 259.8 48.8 260.3 49.6 260.9 50.5 261.4 51.3 261.9 52.2 262.4 53.1 262.9 53.9 263.5 54.8 264.0 55.7 264.5 56.5 265.0 57.4 265.5 58.3 265.9 59.1 266.4 60.0 266.9 60.9 267.4 61.8 267.8 62.7 268.3 63.6 268.8 64.5 269.2 65.4 269.7 66.2 270.1 67.1 270.6 68.0 271.0 69.0 271.4 69.9 271.9 70.8 272.3 71.7 272.7 72.6 273.1 73.5 273.5 74.4 273.9 75.3 274.3 76.2 274.7 77.2 275.1 78.1 275.5 79.0 275.9 79.9 276.3 80.9 276.7 81.8 277.1 82.7 277.4 83.6 277.8 84.6 278.1 85.5 278.5 86.5 278.8 87.4 279.2 88.3 279.5 89.3 279.9 90.2 280.2 91.2 280.5 92.1 280.8 93.1 281.2 94.0 281.5 95.0 281.8 95.9 282.1 96.9 282.4 97.8 282.6 98.8 282.9 99.8 283.2 100.7 283.4 101.7 283.7 102.7 284.0 103.6 284.2 104.6 284.5 105.6 284.7 106.6 285.0 107.5 285.2 108.5 285.5 109.5 285.7 110.4 286.0 111.4 286.3 112.3 286.5 113.3 286.8 114.3 287.1 115.2 287.4 116.2 287.7 117.2 287.9 118.1 288.2 119.1 288.5 120.0 288.8 121.0 289.0 122.0 289.3 123.0 289.5 123.9 289.8 124.9 290.0 125.9 290.3 126.9 290.5 127.9 290.7 128.9 291.0 129.8 291.2 130.8 291.5 131.7 291.8 132.7 292.1 133.6 292.5 134.5 292.9 135.4 293.3 136.3 293.8 137.1 294.3 138.0 294.9 138.8 295.5 139.6 296.1 140.4 296.8 141.1 297.5 141.7 298.2 142.3 298.9 142.9 299.7 143.4 300.6 143.9 301.4 144.4 302.4 144.9 303.3 145.3 304.2 145.7 305.1 146.0 306.1 146.4 307.0 146.7 307.9 147.0 308.9 147.3 309.8 147.6 310.8 147.9 311.8 148.1 312.8 148.4 313.7 148.6 314.7 148.8 315.7 149.0 316.7 149.1 317.7 149.3 318.7 149.4 319.7 149.6 320.6 149.7 321.6 149.8 322.6 150.0 323.6 150.1 324.6 150.2 325.6 150.3 326.6 150.4 327.6 150.6 328.5 150.7 329.5 150.8 330.5 150.9 331.5 150.9 332.5 151.0 333.5 151.1 334.5 151.2 335.5 151.2 336.5 151.3 337.5 151.3 338.6 151.4 339.6 151.4 340.6 151.4 341.6 151.4 342.6" fill="none" stroke="#1aab6b" stroke-width="1.40" stroke-linejoin="round"/>
<path d="M35.5 269.0L36.1 268.1 36.7 267.2 37.4 266.4 38.0 265.6 38.7 264.9 39.5 264.2 40.2 263.6 41.0 263.1 41.9 262.6 42.7 262.2 43.7 261.8 44.6 261.5 45.6 261.1 46.6 260.8 47.5 260.6 48.5 260.3 49.5 260.0 50.4 259.8 51.4 259.5 52.4 259.3 53.4 259.1 54.4 258.8 55.3 258.6 56.3 258.4 57.3 258.2 58.3 257.9 59.3 257.7 60.2 257.5 61.2 257.2 62.2 256.9 63.1 256.7 64.1 256.4 65.1 256.2 66.1 255.9 67.0 255.7 68.0 255.4 69.0 255.2 70.0 254.9 71.0 254.7 71.9 254.5 72.9 254.3 73.9 254.1 74.9 254.0 75.9 253.8 76.9 253.6 77.9 253.5 78.9 253.3 79.9 253.1 80.9 252.9 81.8 252.8 82.8 252.5 83.8 252.3 84.8 252.1 85.7 251.8 86.7 251.4 87.6 251.1 88.5 250.7 89.5 250.4 90.4 250.0 91.4 249.6 92.3 249.2 93.2 248.9 94.2 248.5 95.1 248.2 96.1 247.8 97.0 247.5 97.9 247.1 98.9 246.7 99.8 246.4 100.8 246.0 101.7 245.7H137.2" fill="none" stroke="#c47ae9" stroke-width="1.40" stroke-linejoin="round"/>
<path d="M35.5 260.8L36.3 261.4 37.1 262.1 37.9 262.7 38.7 263.3 39.5 263.9 40.3 264.5 41.1 265.1 41.9 265.7 42.7 266.3 43.5 266.9 44.3 267.4 45.1 268.0 46.0 268.6 46.8 269.1 47.6 269.7 48.5 270.2 49.3 270.8 50.2 271.3 51.0 271.8 51.9 272.3 52.8 272.8 53.6 273.4 54.5 273.9 55.4 274.4 56.2 274.9 57.1 275.4 58.0 275.9 58.8 276.4 59.7 276.8 60.6 277.3 61.5 277.8 62.3 278.3 63.2 278.8 64.1 279.3 65.0 279.7 65.9 280.2 66.7 280.7 67.6 281.2 68.5 281.6 69.4 282.1 70.3 282.6 71.2 283.0 72.1 283.5 73.0 284.0 73.8 284.4 74.7 284.9 75.6 285.4 76.5 285.8 77.4 286.3 78.3 286.8 79.2 287.2 80.1 287.7 81.0 288.1 81.9 288.5 82.8 288.9 83.7 289.4 84.6 289.8 85.5 290.2 86.5 290.6 87.4 291.0 88.3 291.4 89.2 291.8 90.2 292.1 91.1 292.5 92.0 292.9 93.0 293.2 93.9 293.6 94.8 293.9 95.8 294.2 96.7 294.6 97.7 294.9 98.6 295.2 99.6 295.5 100.6 295.8 101.5 296.1 102.5 296.3 103.5 296.6 104.4 296.9 105.4 297.2 106.3 297.6 107.3 297.9 108.2 298.2 109.1 298.6 110.1 299.0 111.0 299.3 111.9 299.7 112.9 300.1 113.8 300.5 114.8 301.0 115.7 301.4 116.6 301.9 117.4 302.4 118.3 302.9 119.1 303.4 119.9 304.0 120.6 304.6 121.4 305.2 122.1 305.9 122.8 306.6 123.5 307.4 124.2 308.2 124.8 309.0 125.4 309.8 125.9 310.7 126.4 311.5 126.9 312.4 127.3 313.3 127.7 314.2 128.1 315.1 128.5 316.0 128.9 317.0 129.2 318.0 129.5 318.9 129.8 319.9 130.1 320.8 130.3 321.8 130.5 322.8 130.8 323.8 131.0 324.7 131.2 325.7 131.3 326.7 131.5 327.7 131.7 328.7 131.9 329.7 132.0 330.7 132.2 331.7 132.3 332.7 132.5 333.6 132.6 334.6 132.8 335.6 132.9 336.6 133.0 337.6 133.2 338.6 133.3 339.6 133.4 340.6 133.5 341.6 133.6 342.6" fill="none" stroke="#c47ae9" stroke-width="1.40" stroke-linejoin="round"/>
<path d="M35.5 269.0L35.7 268.0 35.8 267.0 36.0 266.0 36.2 265.0 36.4 264.0 36.7 263.0 36.9 262.0 37.2 261.1 37.5 260.1 37.8 259.2 38.1 258.2 38.4 257.3 38.7 256.3 39.0 255.4 39.4 254.5 39.8 253.6 40.2 252.7 40.6 251.8 41.0 250.9 41.5 250.0 42.0 249.1 42.5 248.2 43.0 247.4 43.6 246.5 44.1 245.7H77.2" fill="none" stroke="#e3a01a" stroke-width="1.40" stroke-linejoin="round"/>
<path d="M35.5 302.4L36.5 302.7 37.4 303.1 38.2 303.5 38.9 304.0 39.5 304.7 40.0 305.4 40.5 306.3 40.9 307.3 41.3 308.2 41.7 309.3 42.1 310.3 42.6 311.2 43.0 312.2 43.5 313.0 44.0 313.9 44.5 314.8 45.1 315.6 45.6 316.5 46.2 317.3 46.7 318.2 47.3 319.0 47.9 319.8 48.5 320.6 49.1 321.4 49.7 322.1 50.4 322.9 51.1 323.6 51.7 324.4 52.4 325.1 53.1 325.8 53.8 326.6 54.6 327.3 55.3 327.9 56.0 328.6 56.8 329.3 57.6 329.9 58.3 330.5 59.1 331.1 59.9 331.7 60.7 332.3 61.6 332.8 62.4 333.4 63.3 333.9 64.1 334.4 65.0 335.0 65.8 335.5 66.7 336.0 67.6 336.5 68.4 337.0 69.3 337.5 70.1 338.1 71.0 338.6 71.9 339.1 72.7 339.6 73.6 340.1 74.5 340.6 75.3 341.1 76.2 341.6 77.1 342.1 77.9 342.6" fill="none" stroke="#e3a01a" stroke-width="1.40" stroke-linejoin="round"/>
<rect x="192.10" y="218.10" width="40.00" height="60.20" fill="#fff" stroke="#c8c8c8" stroke-width="0.8"/>
<path d="M192.70 223.70H211.30" stroke="#505050" stroke-width="1.7"/>
<text x="213.10" y="226.40" class="lg">0.1 C</text>
<path d="M192.70 233.68H211.30" stroke="#fa5258" stroke-width="1.7"/>
<text x="213.10" y="236.38" class="lg">0.5 C</text>
<path d="M192.70 243.66H211.30" stroke="#2b7ce6" stroke-width="1.7"/>
<text x="213.10" y="246.36" class="lg">1 C</text>
<path d="M192.70 253.64H211.30" stroke="#1aab6b" stroke-width="1.7"/>
<text x="213.10" y="256.34" class="lg">2 C</text>
<path d="M192.70 263.62H211.30" stroke="#c47ae9" stroke-width="1.7"/>
<text x="213.10" y="266.32" class="lg">5 C</text>
<path d="M192.70 273.60H211.30" stroke="#e3a01a" stroke-width="1.7"/>
<text x="213.10" y="276.30" class="lg">10 C</text>
<text x="10.3" y="28.6" class="pl">a</text>
<text x="278.6" y="31.6" class="pl" style="font-size:18.8px">b</text>
<text x="3" y="231" class="pl">c</text>
<text x="277.8" y="220.4" class="pl" style="font-size:18.5px">d</text>
<text transform="translate(114 20.3) scale(1 1.08)" class="tt" text-anchor="middle">LNCM 622</text>
<text transform="translate(398 21) scale(1 1.08)" class="tt" text-anchor="middle">LNCM 622-LN</text>
<text transform="translate(45.6 229.1) scale(1 1.08)" class="tt">LNCM 622-LN@Al<tspan class="sub" dy="2.5">2</tspan><tspan dy="-2.5">O</tspan><tspan class="sub" dy="2.5">3</tspan></text>
<text x="135.50" y="178.60" class="at" text-anchor="middle">Specific discharge capacity (mAh/g)</text>
<text x="19.00" y="78.50" class="yt" text-anchor="middle" transform="rotate(-90 19.00 78.50)">Voltage (V)</text>
<text x="408.50" y="181.50" class="at" text-anchor="middle">Specific discharge capacity (mAh/g)</text>
<text x="290.50" y="81.00" class="yt" text-anchor="middle" transform="rotate(-90 290.50 81.00)">Voltage (V)</text>
<text x="130.70" y="390.50" class="at" text-anchor="middle">Specific discharge capacity (mAh/g)</text>
<text x="13.50" y="289.00" class="yt" text-anchor="middle" transform="rotate(-90 13.50 289.00)">Voltage (V)</text>
<path d="M243.5 228.7H545M243.5 247.0H545M243.5 265.6H545" stroke="#b4b4b4" stroke-width="1.5"/>
<path d="M242.7 373.4H545" stroke="#dcdcdc" stroke-width="1.1"/>
<text x="310.5" y="239.1" class="th" text-anchor="middle">LNCM 622</text>
<text x="405.9" y="239.1" class="th" text-anchor="middle">LNCM 622-LN</text>
<text x="502.2" y="239.1" class="th" text-anchor="middle">LNCM 622-LN@Al<tspan class="sub2" dy="1.8">2</tspan><tspan dy="-1.8">O</tspan><tspan class="sub2" dy="1.8">3</tspan></text>
<text x="287.70" y="254.4" class="sh" text-anchor="middle">charge</text>
<text x="287.70" y="263.2" class="sh" text-anchor="middle">(mAh/g)</text>
<text x="335.70" y="254.4" class="sh" text-anchor="middle">discharge</text>
<text x="335.70" y="263.2" class="sh" text-anchor="middle">(mAh/g)</text>
<text x="383.60" y="254.4" class="sh" text-anchor="middle">charge</text>
<text x="383.60" y="263.2" class="sh" text-anchor="middle">(mAh/g)</text>
<text x="431.20" y="254.4" class="sh" text-anchor="middle">discharge</text>
<text x="431.20" y="263.2" class="sh" text-anchor="middle">(mAh/g)</text>
<text x="479.30" y="254.4" class="sh" text-anchor="middle">charge</text>
<text x="479.30" y="263.2" class="sh" text-anchor="middle">(mAh/g)</text>
<text x="527.10" y="254.4" class="sh" text-anchor="middle">discharge</text>
<text x="527.10" y="263.2" class="sh" text-anchor="middle">(mAh/g)</text>
<text x="253.8" y="278.10" class="td" text-anchor="middle">0.1C</text>
<text x="287.70" y="278.10" class="td" text-anchor="middle">156.2</text>
<text x="335.70" y="278.10" class="td" text-anchor="middle">153.3</text>
<text x="383.60" y="278.10" class="td" text-anchor="middle">162.1</text>
<text x="431.20" y="278.10" class="td" text-anchor="middle">160.1</text>
<text x="479.30" y="278.10" class="td" text-anchor="middle">156.2</text>
<text x="527.10" y="278.10" class="td" text-anchor="middle">155.1</text>
<text x="253.8" y="295.95" class="td" text-anchor="middle">0.5C</text>
<text x="287.70" y="295.95" class="td" text-anchor="middle">139.1</text>
<text x="335.70" y="295.95" class="td" text-anchor="middle">135.6</text>
<text x="383.60" y="295.95" class="td" text-anchor="middle">142.1</text>
<text x="431.20" y="295.95" class="td" text-anchor="middle">139.0</text>
<text x="479.30" y="295.95" class="td" text-anchor="middle">153.0</text>
<text x="527.10" y="295.95" class="td" text-anchor="middle">140.7</text>
<text x="253.8" y="313.80" class="td" text-anchor="middle">1C</text>
<text x="287.70" y="313.80" class="td" text-anchor="middle">132.5</text>
<text x="335.70" y="313.80" class="td" text-anchor="middle">130.6</text>
<text x="383.60" y="313.80" class="td" text-anchor="middle">137.6</text>
<text x="431.20" y="313.80" class="td" text-anchor="middle">131.4</text>
<text x="479.30" y="313.80" class="td" text-anchor="middle">134.6</text>
<text x="527.10" y="313.80" class="td" text-anchor="middle">132.6</text>
<text x="253.8" y="331.65" class="td" text-anchor="middle">2C</text>
<text x="287.70" y="331.65" class="td" text-anchor="middle">112</text>
<text x="335.70" y="331.65" class="td" text-anchor="middle">111.3</text>
<text x="383.60" y="331.65" class="td" text-anchor="middle">128.9</text>
<text x="431.20" y="331.65" class="td" text-anchor="middle">120.2</text>
<text x="479.30" y="331.65" class="td" text-anchor="middle">124.2</text>
<text x="527.10" y="331.65" class="td" text-anchor="middle">122.3</text>
<text x="253.8" y="349.50" class="td" text-anchor="middle">5C</text>
<text x="287.70" y="349.50" class="td" text-anchor="middle">80.9</text>
<text x="335.70" y="349.50" class="td" text-anchor="middle">76.3</text>
<text x="383.60" y="349.50" class="td" text-anchor="middle">92.5</text>
<text x="431.20" y="349.50" class="td" text-anchor="middle">90.3</text>
<text x="479.30" y="349.50" class="td" text-anchor="middle">107.1</text>
<text x="527.10" y="349.50" class="td" text-anchor="middle">103.6</text>
<text x="253.8" y="367.35" class="td" text-anchor="middle">10C</text>
<text x="287.70" y="367.35" class="td" text-anchor="middle">24.2</text>
<text x="335.70" y="367.35" class="td" text-anchor="middle">23.2</text>
<text x="383.60" y="367.35" class="td" text-anchor="middle">37.4</text>
<text x="431.20" y="367.35" class="td" text-anchor="middle">36.2</text>
<text x="479.30" y="367.35" class="td" text-anchor="middle">46.5</text>
<text x="527.10" y="367.35" class="td" text-anchor="middle">44.8</text>
</svg>
</body></html>
